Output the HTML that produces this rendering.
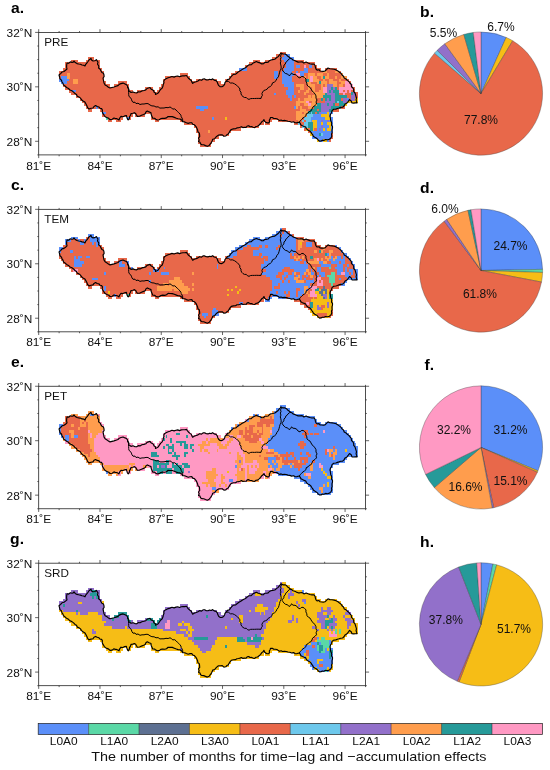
<!DOCTYPE html>
<html><head><meta charset="utf-8"><title>Time-lag and accumulation effects</title>
<style>
html,body{margin:0;padding:0;background:#fff;}
svg{display:block}
text{font-family:"Liberation Sans",Arial,Helvetica,sans-serif;fill:#111}
.ax{font-size:10.6px}
.pl{font-size:12px}
.hd{font-size:14px;font-weight:bold;fill:#000}
.vn{font-size:10.8px}
.lg{font-size:10.6px}
.tt{font-size:13.2px}
</style></head><body>
<svg width="550" height="770" viewBox="0 0 550 770">
<rect width="550" height="770" fill="#fff"/>
<g shape-rendering="crispEdges">
<path fill="#5B8FF9" d="M283.8 54.2h6.3v2.9h-6.3zM281.8 56.9h12.4v2.9h-12.4zM283.8 59.6h10.4v2.9h-10.4zM285.8 62.3h8.3v2.9h-8.3zM285.8 65.1h8.3v2.9h-8.3zM296.1 65.1h4.2v2.9h-4.2zM308.3 65.1h4.2v2.9h-4.2zM238.9 67.8h8.3v2.9h-8.3zM283.8 67.8h10.4v2.9h-10.4zM304.2 67.8h4.2v2.9h-4.2zM273.6 70.5h4.2v2.9h-4.2zM281.8 70.5h10.4v2.9h-10.4zM296.1 70.5h2.2v2.9h-2.2zM300.1 70.5h8.3v2.9h-8.3zM273.6 73.2h4.2v2.9h-4.2zM281.8 73.2h12.4v2.9h-12.4zM300.1 73.2h4.2v2.9h-4.2zM61.2 76.0h6.3v2.9h-6.3zM273.6 76.0h4.2v2.9h-4.2zM281.8 76.0h10.4v2.9h-10.4zM59.1 78.7h10.4v2.9h-10.4zM281.8 78.7h10.4v2.9h-10.4zM61.2 81.4h6.3v2.9h-6.3zM281.8 81.4h12.4v2.9h-12.4zM283.8 84.1h10.4v2.9h-10.4zM287.9 86.8h6.3v2.9h-6.3zM71.4 89.6h4.2v2.9h-4.2zM285.8 89.6h8.3v2.9h-8.3zM273.6 92.3h2.2v2.9h-2.2zM285.8 92.3h8.3v2.9h-8.3zM287.9 95.0h4.2v2.9h-4.2zM294.0 95.0h2.2v2.9h-2.2zM289.9 97.7h2.2v2.9h-2.2zM347.1 97.7h2.2v2.9h-2.2zM95.9 105.9h2.2v2.9h-2.2zM196.0 105.9h12.4v2.9h-12.4zM294.0 105.9h2.2v2.9h-2.2zM200.1 108.6h4.2v2.9h-4.2zM102.0 111.3h4.2v2.9h-4.2zM320.6 111.3h6.3v2.9h-6.3zM328.7 111.3h4.2v2.9h-4.2zM312.4 114.1h8.3v2.9h-8.3zM328.7 114.1h2.2v2.9h-2.2zM126.5 116.8h2.2v2.9h-2.2zM212.3 116.8h2.2v2.9h-2.2zM310.4 116.8h14.4v2.9h-14.4zM330.8 116.8h2.2v2.9h-2.2zM310.4 119.5h2.2v2.9h-2.2zM316.5 119.5h4.2v2.9h-4.2zM322.6 119.5h4.2v2.9h-4.2zM328.7 119.5h4.2v2.9h-4.2zM316.5 122.2h4.2v2.9h-4.2zM322.6 122.2h4.2v2.9h-4.2zM330.8 122.2h2.2v2.9h-2.2zM316.5 125.0h4.2v2.9h-4.2zM322.6 125.0h6.3v2.9h-6.3zM330.8 125.0h2.2v2.9h-2.2zM316.5 127.7h2.2v2.9h-2.2zM320.6 127.7h2.2v2.9h-2.2zM324.6 127.7h2.2v2.9h-2.2zM330.8 127.7h2.2v2.9h-2.2zM310.4 130.4h22.6v2.9h-22.6zM312.4 133.1h6.3v2.9h-6.3zM322.6 133.1h8.3v2.9h-8.3zM312.4 135.8h18.5v2.9h-18.5zM318.5 138.6h4.2v2.9h-4.2zM326.7 138.6h2.2v2.9h-2.2z"/>
<path fill="#5AD8A6" d="M106.1 116.8h2.2v2.9h-2.2z"/>
<path fill="#F6BD16" d="M355.3 97.7h2.2v2.9h-2.2zM347.1 100.5h10.4v2.9h-10.4zM345.1 103.2h2.2v2.9h-2.2zM326.7 111.3h2.2v2.9h-2.2zM320.6 114.1h8.3v2.9h-8.3zM224.6 116.8h2.2v2.9h-2.2zM324.6 116.8h6.3v2.9h-6.3zM312.4 119.5h4.2v2.9h-4.2zM312.4 122.2h4.2v2.9h-4.2zM320.6 122.2h2.2v2.9h-2.2zM326.7 122.2h4.2v2.9h-4.2zM312.4 125.0h4.2v2.9h-4.2zM328.7 125.0h2.2v2.9h-2.2zM306.3 127.7h2.2v2.9h-2.2zM312.4 127.7h2.2v2.9h-2.2zM322.6 127.7h2.2v2.9h-2.2zM326.7 127.7h4.2v2.9h-4.2zM310.4 133.1h2.2v2.9h-2.2zM316.5 138.6h2.2v2.9h-2.2zM322.6 138.6h4.2v2.9h-4.2z"/>
<path fill="#E8684A" d="M279.7 51.5h6.3v2.9h-6.3zM275.6 54.2h8.3v2.9h-8.3zM87.7 56.9h6.3v2.9h-6.3zM271.5 56.9h10.4v2.9h-10.4zM71.4 59.6h6.3v2.9h-6.3zM85.7 59.6h14.4v2.9h-14.4zM253.2 59.6h6.3v2.9h-6.3zM265.4 59.6h18.5v2.9h-18.5zM294.0 59.6h10.4v2.9h-10.4zM65.3 62.3h34.9v2.9h-34.9zM249.1 62.3h36.9v2.9h-36.9zM294.0 62.3h20.6v2.9h-20.6zM65.3 65.1h34.9v2.9h-34.9zM245.0 65.1h41.0v2.9h-41.0zM294.0 65.1h2.2v2.9h-2.2zM300.1 65.1h4.2v2.9h-4.2zM306.3 65.1h2.2v2.9h-2.2zM312.4 65.1h4.2v2.9h-4.2zM63.2 67.8h39.0v2.9h-39.0zM247.0 67.8h36.9v2.9h-36.9zM294.0 67.8h10.4v2.9h-10.4zM308.3 67.8h12.4v2.9h-12.4zM324.6 67.8h12.4v2.9h-12.4zM59.1 70.5h45.1v2.9h-45.1zM234.8 70.5h39.0v2.9h-39.0zM277.7 70.5h4.2v2.9h-4.2zM292.0 70.5h4.2v2.9h-4.2zM298.1 70.5h2.2v2.9h-2.2zM308.3 70.5h14.4v2.9h-14.4zM326.7 70.5h8.3v2.9h-8.3zM338.9 70.5h2.2v2.9h-2.2zM59.1 73.2h8.3v2.9h-8.3zM69.3 73.2h34.9v2.9h-34.9zM179.6 73.2h8.3v2.9h-8.3zM230.7 73.2h43.0v2.9h-43.0zM277.7 73.2h4.2v2.9h-4.2zM294.0 73.2h2.2v2.9h-2.2zM304.2 73.2h4.2v2.9h-4.2zM314.4 73.2h2.2v2.9h-2.2zM322.6 73.2h4.2v2.9h-4.2zM328.7 73.2h12.4v2.9h-12.4zM59.1 76.0h2.2v2.9h-2.2zM69.3 76.0h34.9v2.9h-34.9zM165.3 76.0h24.7v2.9h-24.7zM228.7 76.0h45.1v2.9h-45.1zM277.7 76.0h4.2v2.9h-4.2zM292.0 76.0h12.4v2.9h-12.4zM306.3 76.0h2.2v2.9h-2.2zM316.5 76.0h4.2v2.9h-4.2zM328.7 76.0h6.3v2.9h-6.3zM336.9 76.0h4.2v2.9h-4.2zM69.3 78.7h4.2v2.9h-4.2zM77.5 78.7h26.7v2.9h-26.7zM163.3 78.7h28.7v2.9h-28.7zM196.0 78.7h20.6v2.9h-20.6zM224.6 78.7h57.3v2.9h-57.3zM292.0 78.7h14.4v2.9h-14.4zM318.5 78.7h4.2v2.9h-4.2zM324.6 78.7h4.2v2.9h-4.2zM332.8 78.7h6.3v2.9h-6.3zM341.0 78.7h8.3v2.9h-8.3zM67.3 81.4h6.3v2.9h-6.3zM77.5 81.4h28.7v2.9h-28.7zM118.4 81.4h8.3v2.9h-8.3zM163.3 81.4h57.3v2.9h-57.3zM224.6 81.4h57.3v2.9h-57.3zM294.0 81.4h12.4v2.9h-12.4zM310.4 81.4h6.3v2.9h-6.3zM326.7 81.4h2.2v2.9h-2.2zM336.9 81.4h4.2v2.9h-4.2zM349.2 81.4h2.2v2.9h-2.2zM63.2 84.1h47.1v2.9h-47.1zM114.3 84.1h14.4v2.9h-14.4zM161.2 84.1h122.7v2.9h-122.7zM294.0 84.1h2.2v2.9h-2.2zM304.2 84.1h4.2v2.9h-4.2zM314.4 84.1h6.3v2.9h-6.3zM322.6 84.1h2.2v2.9h-2.2zM336.9 84.1h2.2v2.9h-2.2zM343.0 84.1h2.2v2.9h-2.2zM65.3 86.8h63.5v2.9h-63.5zM144.9 86.8h8.3v2.9h-8.3zM159.2 86.8h128.8v2.9h-128.8zM294.0 86.8h6.3v2.9h-6.3zM304.2 86.8h4.2v2.9h-4.2zM310.4 86.8h2.2v2.9h-2.2zM314.4 86.8h6.3v2.9h-6.3zM336.9 86.8h2.2v2.9h-2.2zM353.2 86.8h2.2v2.9h-2.2zM69.3 89.6h2.2v2.9h-2.2zM75.5 89.6h57.3v2.9h-57.3zM136.7 89.6h18.5v2.9h-18.5zM157.2 89.6h128.8v2.9h-128.8zM294.0 89.6h4.2v2.9h-4.2zM300.1 89.6h6.3v2.9h-6.3zM308.3 89.6h4.2v2.9h-4.2zM314.4 89.6h4.2v2.9h-4.2zM343.0 89.6h2.2v2.9h-2.2zM347.1 89.6h2.2v2.9h-2.2zM351.2 89.6h4.2v2.9h-4.2zM71.4 92.3h202.4v2.9h-202.4zM275.6 92.3h10.4v2.9h-10.4zM294.0 92.3h10.4v2.9h-10.4zM306.3 92.3h8.3v2.9h-8.3zM338.9 92.3h4.2v2.9h-4.2zM345.1 92.3h6.3v2.9h-6.3zM355.3 92.3h2.2v2.9h-2.2zM75.5 95.0h212.6v2.9h-212.6zM292.0 95.0h2.2v2.9h-2.2zM296.1 95.0h12.4v2.9h-12.4zM310.4 95.0h2.2v2.9h-2.2zM347.1 95.0h4.2v2.9h-4.2zM355.3 95.0h2.2v2.9h-2.2zM79.6 97.7h210.5v2.9h-210.5zM292.0 97.7h6.3v2.9h-6.3zM300.1 97.7h4.2v2.9h-4.2zM316.5 97.7h4.2v2.9h-4.2zM322.6 97.7h2.2v2.9h-2.2zM341.0 97.7h2.2v2.9h-2.2zM349.2 97.7h2.2v2.9h-2.2zM81.6 100.5h214.6v2.9h-214.6zM308.3 100.5h4.2v2.9h-4.2zM316.5 100.5h8.3v2.9h-8.3zM83.6 103.2h212.6v2.9h-212.6zM300.1 103.2h4.2v2.9h-4.2zM334.9 103.2h4.2v2.9h-4.2zM85.7 105.9h10.4v2.9h-10.4zM97.9 105.9h98.2v2.9h-98.2zM208.2 105.9h85.9v2.9h-85.9zM298.1 105.9h2.2v2.9h-2.2zM302.2 105.9h6.3v2.9h-6.3zM312.4 105.9h2.2v2.9h-2.2zM341.0 105.9h4.2v2.9h-4.2zM87.7 108.6h4.2v2.9h-4.2zM100.0 108.6h100.2v2.9h-100.2zM204.1 108.6h96.1v2.9h-96.1zM306.3 108.6h4.2v2.9h-4.2zM316.5 108.6h2.2v2.9h-2.2zM332.8 108.6h6.3v2.9h-6.3zM106.1 111.3h190.1v2.9h-190.1zM302.2 111.3h2.2v2.9h-2.2zM314.4 111.3h2.2v2.9h-2.2zM102.0 114.1h30.8v2.9h-30.8zM134.7 114.1h10.4v2.9h-10.4zM151.0 114.1h145.2v2.9h-145.2zM108.1 116.8h14.4v2.9h-14.4zM128.6 116.8h2.2v2.9h-2.2zM151.0 116.8h61.4v2.9h-61.4zM214.4 116.8h10.4v2.9h-10.4zM226.6 116.8h69.6v2.9h-69.6zM302.2 116.8h2.2v2.9h-2.2zM108.1 119.5h4.2v2.9h-4.2zM116.3 119.5h4.2v2.9h-4.2zM155.1 119.5h4.2v2.9h-4.2zM179.6 119.5h92.1v2.9h-92.1zM277.7 119.5h20.6v2.9h-20.6zM300.1 119.5h2.2v2.9h-2.2zM304.2 119.5h2.2v2.9h-2.2zM183.7 122.2h79.8v2.9h-79.8zM265.4 122.2h4.2v2.9h-4.2zM294.0 122.2h4.2v2.9h-4.2zM300.1 122.2h4.2v2.9h-4.2zM193.9 125.0h65.5v2.9h-65.5zM300.1 125.0h2.2v2.9h-2.2zM196.0 127.7h45.1v2.9h-45.1zM304.2 127.7h2.2v2.9h-2.2zM308.3 127.7h2.2v2.9h-2.2zM314.4 127.7h2.2v2.9h-2.2zM196.0 130.4h12.4v2.9h-12.4zM210.3 130.4h20.6v2.9h-20.6zM308.3 130.4h2.2v2.9h-2.2zM198.0 133.1h30.8v2.9h-30.8zM330.8 133.1h2.2v2.9h-2.2zM198.0 135.8h20.6v2.9h-20.6zM330.8 135.8h2.2v2.9h-2.2zM198.0 138.6h16.5v2.9h-16.5zM328.7 138.6h2.2v2.9h-2.2zM198.0 141.3h14.4v2.9h-14.4zM200.1 144.0h10.4v2.9h-10.4z"/>
<path fill="#6DC8EC" d="M336.9 100.5h2.2v2.9h-2.2zM310.4 111.3h2.2v2.9h-2.2zM306.3 114.1h6.3v2.9h-6.3zM304.2 116.8h6.3v2.9h-6.3zM302.2 119.5h2.2v2.9h-2.2zM306.3 119.5h4.2v2.9h-4.2zM298.1 122.2h2.2v2.9h-2.2zM304.2 122.2h4.2v2.9h-4.2zM302.2 125.0h6.3v2.9h-6.3zM320.6 133.1h2.2v2.9h-2.2z"/>
<path fill="#9270CA" d="M326.7 84.1h6.3v2.9h-6.3zM326.7 86.8h4.2v2.9h-4.2zM332.8 86.8h2.2v2.9h-2.2zM326.7 89.6h2.2v2.9h-2.2zM330.8 89.6h2.2v2.9h-2.2zM326.7 92.3h8.3v2.9h-8.3zM353.2 92.3h2.2v2.9h-2.2zM330.8 95.0h4.2v2.9h-4.2zM351.2 95.0h4.2v2.9h-4.2zM326.7 97.7h2.2v2.9h-2.2zM330.8 97.7h4.2v2.9h-4.2zM343.0 97.7h4.2v2.9h-4.2zM351.2 97.7h4.2v2.9h-4.2zM324.6 100.5h10.4v2.9h-10.4zM343.0 100.5h4.2v2.9h-4.2zM320.6 103.2h6.3v2.9h-6.3zM328.7 103.2h4.2v2.9h-4.2zM320.6 105.9h10.4v2.9h-10.4zM320.6 108.6h8.3v2.9h-8.3zM318.5 111.3h2.2v2.9h-2.2zM320.6 119.5h2.2v2.9h-2.2zM326.7 119.5h2.2v2.9h-2.2zM320.6 125.0h2.2v2.9h-2.2zM318.5 127.7h2.2v2.9h-2.2z"/>
<path fill="#FF9D4D" d="M322.6 70.5h4.2v2.9h-4.2zM334.9 70.5h4.2v2.9h-4.2zM67.3 73.2h2.2v2.9h-2.2zM308.3 73.2h6.3v2.9h-6.3zM316.5 73.2h6.3v2.9h-6.3zM326.7 73.2h2.2v2.9h-2.2zM341.0 73.2h2.2v2.9h-2.2zM67.3 76.0h2.2v2.9h-2.2zM304.2 76.0h2.2v2.9h-2.2zM308.3 76.0h2.2v2.9h-2.2zM312.4 76.0h4.2v2.9h-4.2zM320.6 76.0h2.2v2.9h-2.2zM324.6 76.0h4.2v2.9h-4.2zM334.9 76.0h2.2v2.9h-2.2zM341.0 76.0h6.3v2.9h-6.3zM73.4 78.7h4.2v2.9h-4.2zM308.3 78.7h2.2v2.9h-2.2zM312.4 78.7h6.3v2.9h-6.3zM322.6 78.7h2.2v2.9h-2.2zM328.7 78.7h4.2v2.9h-4.2zM338.9 78.7h2.2v2.9h-2.2zM73.4 81.4h4.2v2.9h-4.2zM306.3 81.4h4.2v2.9h-4.2zM316.5 81.4h2.2v2.9h-2.2zM320.6 81.4h6.3v2.9h-6.3zM328.7 81.4h8.3v2.9h-8.3zM341.0 81.4h4.2v2.9h-4.2zM296.1 84.1h8.3v2.9h-8.3zM308.3 84.1h6.3v2.9h-6.3zM320.6 84.1h2.2v2.9h-2.2zM324.6 84.1h2.2v2.9h-2.2zM332.8 84.1h4.2v2.9h-4.2zM338.9 84.1h4.2v2.9h-4.2zM300.1 86.8h4.2v2.9h-4.2zM308.3 86.8h2.2v2.9h-2.2zM312.4 86.8h2.2v2.9h-2.2zM320.6 86.8h2.2v2.9h-2.2zM298.1 89.6h2.2v2.9h-2.2zM306.3 89.6h2.2v2.9h-2.2zM312.4 89.6h2.2v2.9h-2.2zM318.5 89.6h4.2v2.9h-4.2zM304.2 92.3h2.2v2.9h-2.2zM314.4 92.3h10.4v2.9h-10.4zM308.3 95.0h2.2v2.9h-2.2zM312.4 95.0h10.4v2.9h-10.4zM298.1 97.7h2.2v2.9h-2.2zM304.2 97.7h12.4v2.9h-12.4zM296.1 100.5h10.4v2.9h-10.4zM312.4 100.5h4.2v2.9h-4.2zM296.1 103.2h4.2v2.9h-4.2zM304.2 103.2h4.2v2.9h-4.2zM310.4 103.2h6.3v2.9h-6.3zM296.1 105.9h2.2v2.9h-2.2zM300.1 105.9h2.2v2.9h-2.2zM308.3 105.9h4.2v2.9h-4.2zM300.1 108.6h6.3v2.9h-6.3zM296.1 111.3h6.3v2.9h-6.3zM304.2 111.3h4.2v2.9h-4.2zM296.1 114.1h10.4v2.9h-10.4zM296.1 116.8h6.3v2.9h-6.3zM298.1 119.5h2.2v2.9h-2.2zM208.2 130.4h2.2v2.9h-2.2z"/>
<path fill="#269A99" d="M322.6 76.0h2.2v2.9h-2.2zM306.3 78.7h2.2v2.9h-2.2zM318.5 81.4h2.2v2.9h-2.2zM330.8 86.8h2.2v2.9h-2.2zM334.9 86.8h2.2v2.9h-2.2zM328.7 89.6h2.2v2.9h-2.2zM332.8 89.6h6.3v2.9h-6.3zM324.6 92.3h2.2v2.9h-2.2zM334.9 92.3h4.2v2.9h-4.2zM351.2 92.3h2.2v2.9h-2.2zM322.6 95.0h8.3v2.9h-8.3zM334.9 95.0h12.4v2.9h-12.4zM320.6 97.7h2.2v2.9h-2.2zM324.6 97.7h2.2v2.9h-2.2zM328.7 97.7h2.2v2.9h-2.2zM334.9 97.7h6.3v2.9h-6.3zM334.9 100.5h2.2v2.9h-2.2zM338.9 100.5h4.2v2.9h-4.2zM316.5 103.2h4.2v2.9h-4.2zM326.7 103.2h2.2v2.9h-2.2zM332.8 103.2h2.2v2.9h-2.2zM338.9 103.2h6.3v2.9h-6.3zM314.4 105.9h6.3v2.9h-6.3zM330.8 105.9h10.4v2.9h-10.4zM310.4 108.6h6.3v2.9h-6.3zM318.5 108.6h2.2v2.9h-2.2zM328.7 108.6h4.2v2.9h-4.2zM308.3 111.3h2.2v2.9h-2.2zM312.4 111.3h2.2v2.9h-2.2zM316.5 111.3h2.2v2.9h-2.2zM308.3 122.2h4.2v2.9h-4.2zM308.3 125.0h4.2v2.9h-4.2zM310.4 127.7h2.2v2.9h-2.2zM318.5 133.1h2.2v2.9h-2.2z"/>
<path fill="#FF99C3" d="M304.2 65.1h2.2v2.9h-2.2zM296.1 73.2h4.2v2.9h-4.2zM310.4 76.0h2.2v2.9h-2.2zM310.4 78.7h2.2v2.9h-2.2zM345.1 81.4h4.2v2.9h-4.2zM345.1 84.1h8.3v2.9h-8.3zM322.6 86.8h4.2v2.9h-4.2zM338.9 86.8h14.4v2.9h-14.4zM322.6 89.6h4.2v2.9h-4.2zM338.9 89.6h4.2v2.9h-4.2zM345.1 89.6h2.2v2.9h-2.2zM349.2 89.6h2.2v2.9h-2.2zM343.0 92.3h2.2v2.9h-2.2zM306.3 100.5h2.2v2.9h-2.2zM308.3 103.2h2.2v2.9h-2.2z"/>
</g>
<path d="M59.0 75.0 L60.6 73.6 L62.0 72.0 L64.0 71.5 L65.5 70.3 L67.0 69.0 L66.6 67.0 L66.7 65.0 L67.0 63.0 L68.7 63.3 L70.3 61.9 L72.0 62.4 L73.3 62.1 L74.0 61.0 L75.2 62.6 L77.0 63.6 L78.7 64.0 L80.4 64.3 L82.0 65.0 L83.6 65.2 L85.0 66.0 L85.7 64.3 L86.9 63.0 L88.0 61.5 L89.0 60.0 L90.0 59.3 L91.0 58.4 L91.5 60.1 L93.0 61.0 L94.9 60.7 L96.4 59.6 L97.1 60.9 L98.0 62.0 L97.5 64.1 L98.8 66.0 L98.6 68.0 L100.2 69.2 L101.0 71.0 L101.9 72.4 L103.5 73.3 L104.0 75.0 L104.1 76.7 L103.0 78.0 L103.3 79.7 L103.7 81.3 L104.0 83.0 L105.1 84.9 L107.0 86.0 L108.4 87.2 L110.0 88.0 L112.0 87.5 L114.0 87.0 L116.0 86.3 L118.0 85.6 L119.3 84.3 L121.0 83.6 L123.1 83.1 L125.0 84.0 L126.5 84.7 L127.5 86.0 L127.7 87.7 L128.8 89.2 L128.8 91.0 L130.0 91.6 L131.0 92.5 L133.1 92.0 L135.0 92.8 L136.7 93.0 L138.3 91.8 L140.0 92.0 L141.9 90.9 L144.0 90.5 L145.8 89.9 L147.0 88.5 L148.5 88.0 L150.0 87.5 L150.9 88.9 L152.3 89.7 L153.6 90.5 L153.9 92.0 L155.4 92.9 L155.5 94.5 L156.9 93.8 L158.2 93.0 L159.4 91.3 L160.5 89.5 L162.2 88.1 L163.0 86.0 L163.3 84.3 L164.0 82.8 L163.8 81.0 L164.8 79.5 L166.5 78.6 L168.2 77.8 L170.0 77.3 L171.9 76.5 L174.1 77.1 L176.0 76.3 L177.7 76.0 L179.5 76.7 L181.3 76.1 L183.0 75.8 L184.8 75.8 L186.5 75.5 L187.5 77.0 L188.6 78.3 L190.0 79.5 L191.3 80.5 L191.9 82.1 L192.7 83.4 L194.3 82.3 L196.2 81.7 L198.0 81.0 L199.5 79.8 L201.6 80.3 L203.0 79.0 L204.7 78.9 L206.3 79.9 L208.0 80.0 L209.5 79.3 L211.3 79.7 L212.7 78.8 L214.1 80.1 L216.1 80.6 L217.3 82.1 L217.8 83.8 L218.6 85.4 L220.0 86.6 L221.9 86.7 L223.6 85.7 L224.6 84.3 L225.0 82.4 L226.4 81.2 L227.4 79.6 L229.5 79.0 L230.5 77.3 L231.8 75.9 L233.4 74.4 L235.7 74.1 L237.3 72.7 L239.0 71.4 L240.7 70.6 L242.2 69.4 L243.8 68.5 L245.5 67.7 L247.1 66.3 L248.8 64.9 L251.2 64.8 L252.7 63.3 L254.5 62.4 L256.4 61.5 L258.2 62.4 L260.1 62.9 L261.8 63.9 L263.5 63.8 L264.8 62.4 L266.6 62.4 L268.2 62.1 L269.4 60.7 L270.9 60.0 L272.7 59.6 L274.8 59.2 L276.5 57.8 L278.2 56.6 L279.1 55.3 L280.1 54.2 L281.0 53.0 L282.9 54.0 L285.0 54.0 L286.5 54.8 L287.6 56.1 L289.0 57.0 L290.2 58.2 L291.8 58.8 L293.0 60.0 L294.7 60.5 L296.4 61.4 L298.1 62.1 L300.0 62.0 L302.1 61.8 L303.9 63.1 L306.1 62.1 L308.0 63.0 L309.9 63.7 L311.9 64.1 L314.0 64.0 L315.1 65.5 L315.4 67.3 L316.0 69.0 L317.1 70.1 L319.0 69.7 L320.0 71.0 L321.7 71.2 L323.3 71.4 L325.0 71.0 L326.5 69.5 L328.0 68.0 L329.9 68.8 L332.0 69.0 L334.1 69.3 L336.1 69.9 L338.0 71.0 L339.5 72.2 L341.0 73.3 L342.0 75.0 L343.5 76.2 L344.2 78.1 L346.0 79.0 L347.3 80.4 L348.8 81.5 L350.0 83.0 L351.3 84.5 L351.5 86.7 L353.0 88.0 L353.7 89.6 L353.7 91.6 L355.0 93.0 L355.5 94.7 L356.0 96.3 L356.5 98.0 L356.1 99.7 L356.5 101.4 L357.0 103.0 L355.3 102.9 L353.7 103.1 L352.0 103.0 L351.2 101.0 L349.5 99.6 L348.3 101.4 L347.0 103.0 L345.1 104.1 L344.0 106.0 L342.6 107.2 L340.7 107.4 L339.0 108.0 L337.4 108.5 L335.8 109.1 L333.7 109.3 L332.0 110.7 L331.5 112.7 L330.4 114.5 L330.0 116.2 L330.4 117.8 L330.5 119.3 L330.8 120.8 L331.5 122.2 L331.7 123.7 L331.5 125.2 L332.5 126.5 L332.5 128.2 L332.0 129.8 L332.0 131.3 L332.1 132.8 L331.5 134.2 L331.8 136.2 L330.9 138.0 L329.4 139.3 L327.6 139.8 L325.6 139.5 L323.8 140.4 L322.3 140.2 L321.1 141.0 L319.6 141.1 L318.4 140.2 L317.4 139.0 L316.2 138.0 L314.8 137.2 L313.5 136.4 L312.8 134.9 L311.8 133.6 L310.9 132.1 L309.6 130.9 L307.8 130.0 L306.4 128.7 L305.8 127.1 L304.2 126.5 L302.5 125.7 L300.9 124.9 L300.3 123.5 L299.3 122.2 L298.0 122.4 L296.7 122.9 L295.0 122.8 L293.5 121.8 L291.6 122.2 L289.8 121.5 L288.0 121.2 L286.2 120.7 L284.4 120.4 L282.5 120.7 L281.1 120.0 L279.5 120.5 L278.2 119.6 L276.9 118.7 L275.4 118.5 L273.8 118.5 L272.3 117.5 L270.5 117.5 L270.1 118.9 L269.3 120.2 L269.5 121.8 L268.7 122.9 L267.3 122.9 L265.7 122.3 L264.6 121.2 L264.0 119.6 L263.1 120.9 L261.8 121.8 L260.6 123.5 L259.2 125.0 L257.5 126.2 L256.0 126.5 L254.7 127.6 L253.0 127.3 L251.6 126.6 L250.0 126.7 L248.7 125.7 L247.2 126.0 L246.1 127.4 L244.4 127.3 L242.9 127.6 L241.5 126.7 L240.0 127.3 L238.5 127.7 L236.9 127.9 L235.6 128.8 L233.4 128.9 L231.3 129.5 L230.0 131.0 L229.0 132.7 L228.2 134.1 L226.8 134.8 L225.8 136.0 L223.9 136.3 L222.3 134.9 L220.4 134.9 L218.7 135.0 L217.3 135.9 L216.0 137.0 L214.7 138.7 L212.7 139.3 L212.2 140.8 L211.5 142.3 L210.5 143.6 L209.2 145.4 L207.3 146.3 L205.5 145.6 L203.7 144.8 L201.8 144.7 L200.5 143.8 L200.0 142.2 L198.5 141.5 L199.2 139.9 L198.5 138.1 L199.7 136.6 L199.6 134.9 L199.4 133.1 L197.9 131.8 L197.6 130.0 L197.0 128.6 L196.4 127.2 L195.5 126.0 L194.4 124.8 L192.7 124.2 L191.8 122.7 L190.0 122.8 L188.2 123.4 L186.4 122.7 L184.7 121.9 L182.7 121.8 L181.7 120.1 L180.0 119.0 L178.1 118.8 L176.4 118.2 L174.3 117.4 L172.3 116.6 L170.0 116.6 L168.1 116.5 L166.5 117.9 L164.7 118.4 L162.7 118.2 L160.8 118.6 L159.2 119.8 L157.3 120.0 L155.8 119.3 L154.5 118.2 L152.7 118.2 L152.0 116.4 L151.2 114.6 L151.0 112.7 L149.1 111.9 L147.3 111.0 L145.9 112.0 L145.2 113.7 L143.6 114.5 L141.5 115.3 L139.5 116.3 L137.3 116.4 L136.5 115.0 L135.8 113.7 L134.5 112.7 L132.8 113.3 L131.0 113.6 L130.5 115.3 L129.5 116.8 L129.3 118.6 L128.2 120.0 L127.3 118.6 L126.8 117.1 L126.4 115.5 L124.6 115.9 L122.9 116.7 L121.0 116.4 L119.7 118.0 L119.0 120.0 L117.8 119.2 L116.5 118.6 L115.2 118.6 L114.0 118.0 L112.2 119.3 L110.0 119.6 L108.7 118.3 L107.0 117.6 L105.5 116.9 L104.4 115.8 L103.6 114.4 L102.7 113.1 L102.2 111.6 L102.4 110.0 L101.6 108.6 L99.9 108.2 L99.0 107.0 L97.2 106.6 L95.6 105.6 L94.0 106.5 L93.0 108.0 L91.0 108.3 L89.0 109.0 L87.6 107.6 L86.9 105.7 L86.0 104.0 L84.9 102.1 L83.0 101.0 L81.5 99.8 L80.5 98.1 L79.0 97.0 L77.3 96.3 L76.5 94.5 L75.0 93.6 L73.6 92.1 L71.9 90.8 L70.0 90.0 L68.5 88.5 L66.6 87.5 L65.0 86.0 L63.5 85.0 L63.0 83.3 L62.0 82.0 L61.5 80.2 L60.0 78.9 L59.6 77.0Z" fill="none" stroke="#000" stroke-width="1.15" stroke-linejoin="round"/>
<path d="M127.8 87.0 L128.7 88.9 L128.5 91.0 L128.7 92.8 L128.7 94.7 L129.0 96.5 L130.5 97.6 L131.4 99.2 L132.0 101.0 L133.0 102.4 L135.0 102.2 L136.0 103.6 L138.0 103.2 L140.0 104.5 L142.0 104.0 L144.0 104.0 L146.0 103.6 L148.0 103.6 L149.0 104.3 L150.0 105.0 L151.9 105.9 L154.1 106.0 L156.0 107.0 L158.1 106.8 L159.9 108.1 L162.0 108.0 L164.0 108.0 L166.0 107.5 L168.1 107.7 L170.0 107.0 L171.5 107.8 L172.7 109.1 L174.7 108.9 L176.0 110.0 L177.3 111.4 L178.7 112.7 L180.0 114.0 L180.9 115.2 L181.2 116.7 L182.0 118.0 L182.7 119.8 L182.7 121.8" fill="none" stroke="#000" stroke-width="1.0" stroke-linejoin="round"/>
<path d="M226.4 81.2 L228.6 81.5 L230.4 83.0 L232.7 83.0 L234.5 83.8 L236.1 84.9 L237.5 86.2 L239.0 87.5 L239.9 89.0 L239.8 90.8 L241.0 92.1 L241.0 93.9 L241.8 95.5 L243.0 96.6 L244.5 97.5 L246.3 97.5 L247.5 98.8 L249.0 99.4 L250.7 98.6 L252.6 98.5 L254.5 98.5 L256.7 98.4 L258.8 98.4 L261.0 98.5 L261.4 96.9 L262.4 95.4 L261.9 93.5 L262.7 92.0 L263.8 90.5 L265.6 89.9 L267.2 89.1 L268.2 87.5 L270.2 86.6 L271.7 85.2 L272.5 82.9 L274.5 82.0 L276.1 80.5 L276.9 78.5 L278.3 76.9 L279.0 74.8 L279.5 72.8 L280.0 70.8 L281.0 69.0 L281.2 67.0 L280.8 65.0 L280.3 63.0 L280.9 61.2 L280.4 59.3 L281.0 57.5 L280.5 56.0 L281.4 54.5 L281.0 53.0" fill="none" stroke="#000" stroke-width="1.0" stroke-linejoin="round"/>
<path d="M291.0 58.2 L289.3 58.9 L288.0 60.0 L287.0 61.5 L285.7 62.4 L285.3 64.1 L284.0 65.0 L283.8 67.0 L282.6 68.5 L282.2 69.8 L283.0 71.0 L284.1 72.4 L285.5 73.5 L287.6 74.0 L289.0 75.7 L290.7 74.7 L291.5 73.0 L293.0 74.4 L295.0 74.5 L296.8 75.4 L298.1 77.2 L300.0 78.0 L301.2 76.7 L303.0 76.5 L304.6 77.7 L306.0 79.0 L305.9 81.1 L306.8 83.0 L307.0 85.0 L308.3 86.4 L310.0 87.3 L311.0 89.0 L312.0 90.9 L313.7 92.3 L315.0 94.0 L316.0 95.9 L316.0 98.1 L317.0 100.0 L316.1 101.9 L316.5 104.0 L315.3 105.2 L314.0 106.3 L312.6 107.3 L312.0 109.0 L311.1 110.8 L309.2 111.6 L308.0 113.0 L306.3 113.8 L305.9 115.9 L304.5 117.0 L303.0 118.0 L301.7 119.4 L300.3 120.6 L299.3 122.2" fill="none" stroke="#000" stroke-width="1.0" stroke-linejoin="round"/>
<rect x="38.70" y="32.40" width="326.80" height="122.50" fill="none" stroke="#222" stroke-width="0.8"/>
<path d="M38.70 154.90v3.20M38.70 32.40v-3.20M59.12 154.90v1.40M59.12 32.40v-1.40M79.55 154.90v1.40M79.55 32.40v-1.40M99.98 154.90v3.20M99.98 32.40v-3.20M120.40 154.90v1.40M120.40 32.40v-1.40M140.82 154.90v1.40M140.82 32.40v-1.40M161.25 154.90v3.20M161.25 32.40v-3.20M181.68 154.90v1.40M181.68 32.40v-1.40M202.10 154.90v1.40M202.10 32.40v-1.40M222.53 154.90v3.20M222.53 32.40v-3.20M242.95 154.90v1.40M242.95 32.40v-1.40M263.38 154.90v1.40M263.38 32.40v-1.40M283.80 154.90v3.20M283.80 32.40v-3.20M304.23 154.90v1.40M304.23 32.40v-1.40M324.65 154.90v1.40M324.65 32.40v-1.40M345.07 154.90v3.20M345.07 32.40v-3.20M365.50 154.90v1.40M365.50 32.40v-1.40M38.70 32.40h-3.60M365.50 32.40h3.60M38.70 46.01h-1.40M365.50 46.01h1.40M38.70 59.62h-1.40M365.50 59.62h1.40M38.70 73.23h-1.40M365.50 73.23h1.40M38.70 86.84h-3.60M365.50 86.84h3.60M38.70 100.46h-1.40M365.50 100.46h1.40M38.70 114.07h-1.40M365.50 114.07h1.40M38.70 127.68h-1.40M365.50 127.68h1.40M38.70 141.29h-3.60M365.50 141.29h3.60M38.70 154.90h-1.40M365.50 154.90h1.40" stroke="#222" stroke-width="0.7" fill="none"/>
<text transform="translate(38.7 169.5) scale(1.12 1)" text-anchor="middle" class="ax">81˚E</text>
<text transform="translate(100.0 169.5) scale(1.12 1)" text-anchor="middle" class="ax">84˚E</text>
<text transform="translate(161.2 169.5) scale(1.12 1)" text-anchor="middle" class="ax">87˚E</text>
<text transform="translate(222.5 169.5) scale(1.12 1)" text-anchor="middle" class="ax">90˚E</text>
<text transform="translate(283.8 169.5) scale(1.12 1)" text-anchor="middle" class="ax">93˚E</text>
<text transform="translate(345.1 169.5) scale(1.12 1)" text-anchor="middle" class="ax">96˚E</text>
<text transform="translate(32.3 36.8) scale(1.12 1)" text-anchor="end" class="ax">32˚N</text>
<text transform="translate(32.3 91.2) scale(1.12 1)" text-anchor="end" class="ax">30˚N</text>
<text transform="translate(32.3 145.7) scale(1.12 1)" text-anchor="end" class="ax">28˚N</text>
<text transform="translate(44.3 46.1) scale(1.085 1)" class="vn">PRE</text>
<text transform="translate(24 13.4) scale(1.12 1)" text-anchor="end" class="hd">a.</text>
<text transform="translate(434 16.5) scale(1.12 1)" text-anchor="end" class="hd">b.</text>
<path d="M481.00 93.60L481.00 32.00A61.60 61.60 0 0 1 506.17 37.38Z" fill="#5B8FF9" stroke="#3a3a3a" stroke-width="0.35" stroke-linejoin="round"/>
<path d="M481.00 93.60L506.17 37.38A61.60 61.60 0 0 1 512.69 40.78Z" fill="#F6BD16" stroke="#3a3a3a" stroke-width="0.35" stroke-linejoin="round"/>
<path d="M481.00 93.60L512.69 40.78A61.60 61.60 0 1 1 434.54 53.15Z" fill="#E8684A" stroke="#3a3a3a" stroke-width="0.35" stroke-linejoin="round"/>
<path d="M481.00 93.60L434.54 53.15A61.60 61.60 0 0 1 437.17 50.32Z" fill="#6DC8EC" stroke="#3a3a3a" stroke-width="0.35" stroke-linejoin="round"/>
<path d="M481.00 93.60L437.17 50.32A61.60 61.60 0 0 1 444.79 43.76Z" fill="#9270CA" stroke="#3a3a3a" stroke-width="0.35" stroke-linejoin="round"/>
<path d="M481.00 93.60L444.79 43.76A61.60 61.60 0 0 1 463.81 34.45Z" fill="#FF9D4D" stroke="#3a3a3a" stroke-width="0.35" stroke-linejoin="round"/>
<path d="M481.00 93.60L463.81 34.45A61.60 61.60 0 0 1 473.28 32.49Z" fill="#269A99" stroke="#3a3a3a" stroke-width="0.35" stroke-linejoin="round"/>
<path d="M481.00 93.60L473.28 32.49A61.60 61.60 0 0 1 481.00 32.00Z" fill="#FF99C3" stroke="#3a3a3a" stroke-width="0.35" stroke-linejoin="round"/>
<text x="481.0" y="123.9" text-anchor="middle" class="pl">77.8%</text>
<text x="500.9" y="31.4" text-anchor="middle" class="pl">6.7%</text>
<text x="443.4" y="36.6" text-anchor="middle" class="pl">5.5%</text>
<g shape-rendering="crispEdges">
<path fill="#5B8FF9" d="M279.7 228.4h2.2v2.9h-2.2zM275.6 231.1h6.3v2.9h-6.3zM283.8 231.1h4.2v2.9h-4.2zM87.7 233.8h6.3v2.9h-6.3zM271.5 233.8h8.3v2.9h-8.3zM281.8 233.8h10.4v2.9h-10.4zM71.4 236.6h6.3v2.9h-6.3zM89.8 236.6h10.4v2.9h-10.4zM253.2 236.6h6.3v2.9h-6.3zM265.4 236.6h30.8v2.9h-30.8zM65.3 239.3h6.3v2.9h-6.3zM77.5 239.3h2.2v2.9h-2.2zM83.6 239.3h2.2v2.9h-2.2zM89.8 239.3h10.4v2.9h-10.4zM249.1 239.3h47.1v2.9h-47.1zM65.3 242.0h2.2v2.9h-2.2zM79.6 242.0h4.2v2.9h-4.2zM91.8 242.0h2.2v2.9h-2.2zM95.9 242.0h4.2v2.9h-4.2zM245.0 242.0h51.2v2.9h-51.2zM306.3 242.0h6.3v2.9h-6.3zM95.9 244.7h2.2v2.9h-2.2zM238.9 244.7h8.3v2.9h-8.3zM251.1 244.7h8.3v2.9h-8.3zM261.3 244.7h4.2v2.9h-4.2zM267.5 244.7h10.4v2.9h-10.4zM279.7 244.7h16.5v2.9h-16.5zM306.3 244.7h6.3v2.9h-6.3zM334.9 244.7h2.2v2.9h-2.2zM59.1 247.4h4.2v2.9h-4.2zM234.8 247.4h8.3v2.9h-8.3zM259.3 247.4h16.5v2.9h-16.5zM277.7 247.4h18.5v2.9h-18.5zM338.9 247.4h2.2v2.9h-2.2zM59.1 250.2h2.2v2.9h-2.2zM69.3 250.2h4.2v2.9h-4.2zM230.7 250.2h6.3v2.9h-6.3zM253.2 250.2h43.0v2.9h-43.0zM341.0 250.2h2.2v2.9h-2.2zM228.7 252.9h8.3v2.9h-8.3zM253.2 252.9h6.3v2.9h-6.3zM261.3 252.9h28.7v2.9h-28.7zM292.0 252.9h2.2v2.9h-2.2zM326.7 252.9h2.2v2.9h-2.2zM343.0 252.9h4.2v2.9h-4.2zM73.4 255.6h2.2v2.9h-2.2zM77.5 255.6h4.2v2.9h-4.2zM85.7 255.6h4.2v2.9h-4.2zM226.6 255.6h6.3v2.9h-6.3zM261.3 255.6h2.2v2.9h-2.2zM267.5 255.6h22.6v2.9h-22.6zM330.8 255.6h2.2v2.9h-2.2zM336.9 255.6h4.2v2.9h-4.2zM343.0 255.6h2.2v2.9h-2.2zM347.1 255.6h2.2v2.9h-2.2zM73.4 258.3h6.3v2.9h-6.3zM263.4 258.3h2.2v2.9h-2.2zM267.5 258.3h26.7v2.9h-26.7zM300.1 258.3h2.2v2.9h-2.2zM328.7 258.3h4.2v2.9h-4.2zM334.9 258.3h10.4v2.9h-10.4zM349.2 258.3h2.2v2.9h-2.2zM73.4 261.1h10.4v2.9h-10.4zM118.4 261.1h4.2v2.9h-4.2zM126.5 261.1h2.2v2.9h-2.2zM263.4 261.1h36.9v2.9h-36.9zM304.2 261.1h2.2v2.9h-2.2zM318.5 261.1h4.2v2.9h-4.2zM330.8 261.1h8.3v2.9h-8.3zM341.0 261.1h4.2v2.9h-4.2zM351.2 261.1h2.2v2.9h-2.2zM73.4 263.8h8.3v2.9h-8.3zM118.4 263.8h6.3v2.9h-6.3zM216.4 263.8h2.2v2.9h-2.2zM261.3 263.8h47.1v2.9h-47.1zM320.6 263.8h10.4v2.9h-10.4zM336.9 263.8h6.3v2.9h-6.3zM347.1 263.8h2.2v2.9h-2.2zM353.2 263.8h2.2v2.9h-2.2zM130.6 266.5h2.2v2.9h-2.2zM163.3 266.5h2.2v2.9h-2.2zM216.4 266.5h2.2v2.9h-2.2zM261.3 266.5h22.6v2.9h-22.6zM289.9 266.5h18.5v2.9h-18.5zM316.5 266.5h4.2v2.9h-4.2zM334.9 266.5h8.3v2.9h-8.3zM345.1 266.5h2.2v2.9h-2.2zM353.2 266.5h2.2v2.9h-2.2zM153.1 269.2h6.3v2.9h-6.3zM265.4 269.2h16.5v2.9h-16.5zM294.0 269.2h12.4v2.9h-12.4zM310.4 269.2h2.2v2.9h-2.2zM316.5 269.2h4.2v2.9h-4.2zM336.9 269.2h6.3v2.9h-6.3zM345.1 269.2h2.2v2.9h-2.2zM349.2 269.2h4.2v2.9h-4.2zM355.3 269.2h2.2v2.9h-2.2zM104.1 271.9h2.2v2.9h-2.2zM149.0 271.9h2.2v2.9h-2.2zM161.2 271.9h8.3v2.9h-8.3zM261.3 271.9h16.5v2.9h-16.5zM283.8 271.9h4.2v2.9h-4.2zM292.0 271.9h2.2v2.9h-2.2zM300.1 271.9h4.2v2.9h-4.2zM310.4 271.9h4.2v2.9h-4.2zM318.5 271.9h6.3v2.9h-6.3zM336.9 271.9h4.2v2.9h-4.2zM345.1 271.9h4.2v2.9h-4.2zM351.2 271.9h2.2v2.9h-2.2zM355.3 271.9h2.2v2.9h-2.2zM265.4 274.7h10.4v2.9h-10.4zM281.8 274.7h4.2v2.9h-4.2zM287.9 274.7h6.3v2.9h-6.3zM296.1 274.7h2.2v2.9h-2.2zM300.1 274.7h2.2v2.9h-2.2zM306.3 274.7h2.2v2.9h-2.2zM316.5 274.7h2.2v2.9h-2.2zM320.6 274.7h4.2v2.9h-4.2zM345.1 274.7h6.3v2.9h-6.3zM355.3 274.7h2.2v2.9h-2.2zM91.8 277.4h6.3v2.9h-6.3zM269.5 277.4h10.4v2.9h-10.4zM281.8 277.4h2.2v2.9h-2.2zM285.8 277.4h8.3v2.9h-8.3zM300.1 277.4h2.2v2.9h-2.2zM304.2 277.4h2.2v2.9h-2.2zM312.4 277.4h2.2v2.9h-2.2zM338.9 277.4h2.2v2.9h-2.2zM347.1 277.4h10.4v2.9h-10.4zM149.0 280.1h2.2v2.9h-2.2zM271.5 280.1h10.4v2.9h-10.4zM283.8 280.1h4.2v2.9h-4.2zM289.9 280.1h6.3v2.9h-6.3zM306.3 280.1h8.3v2.9h-8.3zM345.1 280.1h2.2v2.9h-2.2zM271.5 282.8h6.3v2.9h-6.3zM279.7 282.8h30.8v2.9h-30.8zM341.0 282.8h4.2v2.9h-4.2zM104.1 285.6h2.2v2.9h-2.2zM271.5 285.6h2.2v2.9h-2.2zM279.7 285.6h24.7v2.9h-24.7zM308.3 285.6h2.2v2.9h-2.2zM104.1 288.3h2.2v2.9h-2.2zM271.5 288.3h24.7v2.9h-24.7zM300.1 288.3h4.2v2.9h-4.2zM306.3 288.3h2.2v2.9h-2.2zM269.5 291.0h6.3v2.9h-6.3zM277.7 291.0h6.3v2.9h-6.3zM285.8 291.0h2.2v2.9h-2.2zM289.9 291.0h6.3v2.9h-6.3zM298.1 291.0h6.3v2.9h-6.3zM114.3 293.7h2.2v2.9h-2.2zM271.5 293.7h14.4v2.9h-14.4zM289.9 293.7h6.3v2.9h-6.3zM298.1 293.7h4.2v2.9h-4.2zM267.5 296.4h4.2v2.9h-4.2zM277.7 296.4h8.3v2.9h-8.3zM287.9 296.4h12.4v2.9h-12.4zM265.4 299.2h4.2v2.9h-4.2zM238.9 301.9h4.2v2.9h-4.2zM212.3 307.3h4.2v2.9h-4.2zM212.3 310.1h6.3v2.9h-6.3zM202.1 312.8h6.3v2.9h-6.3zM212.3 312.8h6.3v2.9h-6.3zM204.1 315.5h2.2v2.9h-2.2z"/>
<path fill="#5AD8A6" d="M328.7 266.5h2.2v2.9h-2.2zM330.8 271.9h4.2v2.9h-4.2zM326.7 274.7h8.3v2.9h-8.3zM328.7 277.4h6.3v2.9h-6.3zM328.7 280.1h6.3v2.9h-6.3zM330.8 282.8h2.2v2.9h-2.2zM126.5 293.7h2.2v2.9h-2.2z"/>
<path fill="#5D7092" d="M322.6 285.6h2.2v2.9h-2.2zM320.6 288.3h6.3v2.9h-6.3zM318.5 291.0h4.2v2.9h-4.2zM324.6 291.0h2.2v2.9h-2.2zM320.6 293.7h2.2v2.9h-2.2zM322.6 296.4h2.2v2.9h-2.2z"/>
<path fill="#F6BD16" d="M300.1 242.0h2.2v2.9h-2.2zM234.8 285.6h2.2v2.9h-2.2zM226.6 288.3h2.2v2.9h-2.2zM230.7 288.3h2.2v2.9h-2.2zM238.9 288.3h2.2v2.9h-2.2zM318.5 288.3h2.2v2.9h-2.2zM326.7 288.3h2.2v2.9h-2.2zM108.1 291.0h2.2v2.9h-2.2zM236.8 291.0h2.2v2.9h-2.2zM314.4 291.0h4.2v2.9h-4.2zM322.6 291.0h2.2v2.9h-2.2zM326.7 291.0h2.2v2.9h-2.2zM226.6 293.7h2.2v2.9h-2.2zM316.5 293.7h4.2v2.9h-4.2zM326.7 293.7h2.2v2.9h-2.2zM312.4 296.4h2.2v2.9h-2.2zM316.5 296.4h6.3v2.9h-6.3zM326.7 296.4h2.2v2.9h-2.2zM310.4 299.2h22.6v2.9h-22.6zM312.4 301.9h14.4v2.9h-14.4zM328.7 301.9h4.2v2.9h-4.2zM312.4 304.6h4.2v2.9h-4.2zM318.5 304.6h2.2v2.9h-2.2zM324.6 304.6h2.2v2.9h-2.2zM328.7 304.6h4.2v2.9h-4.2zM310.4 307.3h6.3v2.9h-6.3zM322.6 307.3h10.4v2.9h-10.4zM310.4 310.1h20.6v2.9h-20.6zM312.4 312.8h4.2v2.9h-4.2zM326.7 312.8h4.2v2.9h-4.2zM316.5 315.5h2.2v2.9h-2.2zM324.6 315.5h4.2v2.9h-4.2z"/>
<path fill="#E8684A" d="M281.8 228.4h4.2v2.9h-4.2zM281.8 231.1h2.2v2.9h-2.2zM287.9 231.1h2.2v2.9h-2.2zM279.7 233.8h2.2v2.9h-2.2zM292.0 233.8h2.2v2.9h-2.2zM85.7 236.6h4.2v2.9h-4.2zM296.1 236.6h8.3v2.9h-8.3zM71.4 239.3h6.3v2.9h-6.3zM79.6 239.3h4.2v2.9h-4.2zM85.7 239.3h4.2v2.9h-4.2zM296.1 239.3h2.2v2.9h-2.2zM304.2 239.3h10.4v2.9h-10.4zM67.3 242.0h12.4v2.9h-12.4zM83.6 242.0h8.3v2.9h-8.3zM93.8 242.0h2.2v2.9h-2.2zM296.1 242.0h2.2v2.9h-2.2zM302.2 242.0h4.2v2.9h-4.2zM312.4 242.0h4.2v2.9h-4.2zM63.2 244.7h32.8v2.9h-32.8zM97.9 244.7h4.2v2.9h-4.2zM247.0 244.7h4.2v2.9h-4.2zM259.3 244.7h2.2v2.9h-2.2zM265.4 244.7h2.2v2.9h-2.2zM277.7 244.7h2.2v2.9h-2.2zM296.1 244.7h2.2v2.9h-2.2zM302.2 244.7h4.2v2.9h-4.2zM312.4 244.7h8.3v2.9h-8.3zM324.6 244.7h10.4v2.9h-10.4zM63.2 247.4h41.0v2.9h-41.0zM242.9 247.4h16.5v2.9h-16.5zM275.6 247.4h2.2v2.9h-2.2zM296.1 247.4h2.2v2.9h-2.2zM300.1 247.4h22.6v2.9h-22.6zM324.6 247.4h14.4v2.9h-14.4zM61.2 250.2h8.3v2.9h-8.3zM73.4 250.2h30.8v2.9h-30.8zM179.6 250.2h8.3v2.9h-8.3zM236.8 250.2h16.5v2.9h-16.5zM296.1 250.2h18.5v2.9h-18.5zM316.5 250.2h2.2v2.9h-2.2zM322.6 250.2h6.3v2.9h-6.3zM332.8 250.2h8.3v2.9h-8.3zM59.1 252.9h45.1v2.9h-45.1zM165.3 252.9h24.7v2.9h-24.7zM236.8 252.9h16.5v2.9h-16.5zM259.3 252.9h2.2v2.9h-2.2zM289.9 252.9h2.2v2.9h-2.2zM294.0 252.9h30.8v2.9h-30.8zM330.8 252.9h12.4v2.9h-12.4zM59.1 255.6h14.4v2.9h-14.4zM75.5 255.6h2.2v2.9h-2.2zM81.6 255.6h4.2v2.9h-4.2zM89.8 255.6h14.4v2.9h-14.4zM163.3 255.6h28.7v2.9h-28.7zM196.0 255.6h20.6v2.9h-20.6zM224.6 255.6h2.2v2.9h-2.2zM232.7 255.6h28.7v2.9h-28.7zM263.4 255.6h4.2v2.9h-4.2zM289.9 255.6h4.2v2.9h-4.2zM296.1 255.6h2.2v2.9h-2.2zM300.1 255.6h2.2v2.9h-2.2zM304.2 255.6h6.3v2.9h-6.3zM312.4 255.6h12.4v2.9h-12.4zM326.7 255.6h2.2v2.9h-2.2zM332.8 255.6h2.2v2.9h-2.2zM341.0 255.6h2.2v2.9h-2.2zM345.1 255.6h2.2v2.9h-2.2zM61.2 258.3h12.4v2.9h-12.4zM79.6 258.3h26.7v2.9h-26.7zM118.4 258.3h8.3v2.9h-8.3zM163.3 258.3h57.3v2.9h-57.3zM224.6 258.3h39.0v2.9h-39.0zM265.4 258.3h2.2v2.9h-2.2zM294.0 258.3h2.2v2.9h-2.2zM298.1 258.3h2.2v2.9h-2.2zM302.2 258.3h12.4v2.9h-12.4zM318.5 258.3h2.2v2.9h-2.2zM322.6 258.3h4.2v2.9h-4.2zM345.1 258.3h4.2v2.9h-4.2zM63.2 261.1h10.4v2.9h-10.4zM83.6 261.1h26.7v2.9h-26.7zM114.3 261.1h4.2v2.9h-4.2zM122.4 261.1h4.2v2.9h-4.2zM161.2 261.1h102.3v2.9h-102.3zM300.1 261.1h4.2v2.9h-4.2zM306.3 261.1h2.2v2.9h-2.2zM326.7 261.1h4.2v2.9h-4.2zM338.9 261.1h2.2v2.9h-2.2zM345.1 261.1h6.3v2.9h-6.3zM65.3 263.8h8.3v2.9h-8.3zM81.6 263.8h36.9v2.9h-36.9zM124.5 263.8h4.2v2.9h-4.2zM144.9 263.8h8.3v2.9h-8.3zM159.2 263.8h57.3v2.9h-57.3zM218.4 263.8h43.0v2.9h-43.0zM308.3 263.8h12.4v2.9h-12.4zM330.8 263.8h6.3v2.9h-6.3zM343.0 263.8h4.2v2.9h-4.2zM349.2 263.8h4.2v2.9h-4.2zM69.3 266.5h61.4v2.9h-61.4zM136.7 266.5h18.5v2.9h-18.5zM157.2 266.5h6.3v2.9h-6.3zM165.3 266.5h51.2v2.9h-51.2zM218.4 266.5h43.0v2.9h-43.0zM283.8 266.5h6.3v2.9h-6.3zM308.3 266.5h4.2v2.9h-4.2zM314.4 266.5h2.2v2.9h-2.2zM320.6 266.5h8.3v2.9h-8.3zM330.8 266.5h4.2v2.9h-4.2zM343.0 266.5h2.2v2.9h-2.2zM347.1 266.5h6.3v2.9h-6.3zM71.4 269.2h2.2v2.9h-2.2zM77.5 269.2h75.7v2.9h-75.7zM159.2 269.2h106.4v2.9h-106.4zM281.8 269.2h12.4v2.9h-12.4zM308.3 269.2h2.2v2.9h-2.2zM312.4 269.2h4.2v2.9h-4.2zM320.6 269.2h16.5v2.9h-16.5zM343.0 269.2h2.2v2.9h-2.2zM347.1 269.2h2.2v2.9h-2.2zM353.2 269.2h2.2v2.9h-2.2zM75.5 271.9h28.7v2.9h-28.7zM106.1 271.9h43.0v2.9h-43.0zM151.0 271.9h10.4v2.9h-10.4zM169.4 271.9h22.6v2.9h-22.6zM193.9 271.9h67.6v2.9h-67.6zM277.7 271.9h6.3v2.9h-6.3zM287.9 271.9h4.2v2.9h-4.2zM296.1 271.9h4.2v2.9h-4.2zM306.3 271.9h2.2v2.9h-2.2zM314.4 271.9h4.2v2.9h-4.2zM324.6 271.9h6.3v2.9h-6.3zM334.9 271.9h2.2v2.9h-2.2zM349.2 271.9h2.2v2.9h-2.2zM353.2 271.9h2.2v2.9h-2.2zM79.6 274.7h186.0v2.9h-186.0zM275.6 274.7h6.3v2.9h-6.3zM285.8 274.7h2.2v2.9h-2.2zM294.0 274.7h2.2v2.9h-2.2zM302.2 274.7h4.2v2.9h-4.2zM308.3 274.7h2.2v2.9h-2.2zM312.4 274.7h4.2v2.9h-4.2zM318.5 274.7h2.2v2.9h-2.2zM324.6 274.7h2.2v2.9h-2.2zM334.9 274.7h10.4v2.9h-10.4zM351.2 274.7h4.2v2.9h-4.2zM81.6 277.4h10.4v2.9h-10.4zM97.9 277.4h75.7v2.9h-75.7zM179.6 277.4h90.0v2.9h-90.0zM279.7 277.4h2.2v2.9h-2.2zM283.8 277.4h2.2v2.9h-2.2zM298.1 277.4h2.2v2.9h-2.2zM302.2 277.4h2.2v2.9h-2.2zM306.3 277.4h6.3v2.9h-6.3zM314.4 277.4h2.2v2.9h-2.2zM320.6 277.4h8.3v2.9h-8.3zM334.9 277.4h4.2v2.9h-4.2zM341.0 277.4h6.3v2.9h-6.3zM83.6 280.1h65.5v2.9h-65.5zM151.0 280.1h18.5v2.9h-18.5zM181.7 280.1h90.0v2.9h-90.0zM281.8 280.1h2.2v2.9h-2.2zM287.9 280.1h2.2v2.9h-2.2zM304.2 280.1h2.2v2.9h-2.2zM314.4 280.1h2.2v2.9h-2.2zM318.5 280.1h2.2v2.9h-2.2zM322.6 280.1h6.3v2.9h-6.3zM334.9 280.1h10.4v2.9h-10.4zM85.7 282.8h77.8v2.9h-77.8zM167.4 282.8h2.2v2.9h-2.2zM183.7 282.8h8.3v2.9h-8.3zM193.9 282.8h77.8v2.9h-77.8zM277.7 282.8h2.2v2.9h-2.2zM310.4 282.8h6.3v2.9h-6.3zM322.6 282.8h8.3v2.9h-8.3zM332.8 282.8h8.3v2.9h-8.3zM87.7 285.6h4.2v2.9h-4.2zM100.0 285.6h4.2v2.9h-4.2zM106.1 285.6h51.2v2.9h-51.2zM187.8 285.6h47.1v2.9h-47.1zM236.8 285.6h34.9v2.9h-34.9zM273.6 285.6h6.3v2.9h-6.3zM316.5 285.6h6.3v2.9h-6.3zM324.6 285.6h14.4v2.9h-14.4zM102.0 288.3h2.2v2.9h-2.2zM106.1 288.3h51.2v2.9h-51.2zM171.5 288.3h2.2v2.9h-2.2zM189.8 288.3h2.2v2.9h-2.2zM193.9 288.3h32.8v2.9h-32.8zM228.7 288.3h2.2v2.9h-2.2zM232.7 288.3h6.3v2.9h-6.3zM240.9 288.3h30.8v2.9h-30.8zM296.1 288.3h4.2v2.9h-4.2zM308.3 288.3h4.2v2.9h-4.2zM328.7 288.3h4.2v2.9h-4.2zM102.0 291.0h6.3v2.9h-6.3zM110.2 291.0h22.6v2.9h-22.6zM134.7 291.0h10.4v2.9h-10.4zM151.0 291.0h28.7v2.9h-28.7zM187.8 291.0h49.2v2.9h-49.2zM238.9 291.0h30.8v2.9h-30.8zM275.6 291.0h2.2v2.9h-2.2zM283.8 291.0h2.2v2.9h-2.2zM287.9 291.0h2.2v2.9h-2.2zM296.1 291.0h2.2v2.9h-2.2zM308.3 291.0h2.2v2.9h-2.2zM328.7 291.0h2.2v2.9h-2.2zM106.1 293.7h8.3v2.9h-8.3zM116.3 293.7h6.3v2.9h-6.3zM128.6 293.7h2.2v2.9h-2.2zM151.0 293.7h75.7v2.9h-75.7zM228.7 293.7h43.0v2.9h-43.0zM285.8 293.7h4.2v2.9h-4.2zM296.1 293.7h2.2v2.9h-2.2zM302.2 293.7h6.3v2.9h-6.3zM108.1 296.4h4.2v2.9h-4.2zM116.3 296.4h4.2v2.9h-4.2zM155.1 296.4h4.2v2.9h-4.2zM179.6 296.4h88.0v2.9h-88.0zM285.8 296.4h2.2v2.9h-2.2zM300.1 296.4h12.4v2.9h-12.4zM314.4 296.4h2.2v2.9h-2.2zM183.7 299.2h79.8v2.9h-79.8zM294.0 299.2h16.5v2.9h-16.5zM193.9 301.9h45.1v2.9h-45.1zM242.9 301.9h16.5v2.9h-16.5zM300.1 301.9h6.3v2.9h-6.3zM308.3 301.9h2.2v2.9h-2.2zM196.0 304.6h45.1v2.9h-45.1zM304.2 304.6h6.3v2.9h-6.3zM320.6 304.6h4.2v2.9h-4.2zM196.0 307.3h16.5v2.9h-16.5zM216.4 307.3h14.4v2.9h-14.4zM308.3 307.3h2.2v2.9h-2.2zM320.6 307.3h2.2v2.9h-2.2zM198.0 310.1h14.4v2.9h-14.4zM218.4 310.1h10.4v2.9h-10.4zM330.8 310.1h2.2v2.9h-2.2zM198.0 312.8h4.2v2.9h-4.2zM208.2 312.8h4.2v2.9h-4.2zM316.5 312.8h10.4v2.9h-10.4zM330.8 312.8h2.2v2.9h-2.2zM198.0 315.5h6.3v2.9h-6.3zM206.2 315.5h8.3v2.9h-8.3zM318.5 315.5h6.3v2.9h-6.3zM328.7 315.5h2.2v2.9h-2.2zM198.0 318.2h14.4v2.9h-14.4zM200.1 320.9h10.4v2.9h-10.4z"/>
<path fill="#9270CA" d="M322.6 293.7h4.2v2.9h-4.2zM324.6 296.4h2.2v2.9h-2.2zM326.7 301.9h2.2v2.9h-2.2zM316.5 304.6h2.2v2.9h-2.2zM326.7 304.6h2.2v2.9h-2.2zM316.5 307.3h4.2v2.9h-4.2z"/>
<path fill="#FF9D4D" d="M298.1 239.3h6.3v2.9h-6.3zM298.1 242.0h2.2v2.9h-2.2zM298.1 244.7h4.2v2.9h-4.2zM298.1 247.4h2.2v2.9h-2.2zM322.6 247.4h2.2v2.9h-2.2zM314.4 250.2h2.2v2.9h-2.2zM320.6 250.2h2.2v2.9h-2.2zM328.7 250.2h4.2v2.9h-4.2zM328.7 252.9h2.2v2.9h-2.2zM294.0 255.6h2.2v2.9h-2.2zM298.1 255.6h2.2v2.9h-2.2zM302.2 255.6h2.2v2.9h-2.2zM324.6 255.6h2.2v2.9h-2.2zM328.7 255.6h2.2v2.9h-2.2zM334.9 255.6h2.2v2.9h-2.2zM296.1 258.3h2.2v2.9h-2.2zM314.4 258.3h2.2v2.9h-2.2zM320.6 258.3h2.2v2.9h-2.2zM326.7 258.3h2.2v2.9h-2.2zM332.8 258.3h2.2v2.9h-2.2zM308.3 261.1h10.4v2.9h-10.4zM322.6 261.1h4.2v2.9h-4.2zM312.4 266.5h2.2v2.9h-2.2zM306.3 269.2h2.2v2.9h-2.2zM191.9 271.9h2.2v2.9h-2.2zM294.0 271.9h2.2v2.9h-2.2zM304.2 271.9h2.2v2.9h-2.2zM308.3 271.9h2.2v2.9h-2.2zM298.1 274.7h2.2v2.9h-2.2zM310.4 274.7h2.2v2.9h-2.2zM173.5 277.4h6.3v2.9h-6.3zM294.0 277.4h4.2v2.9h-4.2zM169.4 280.1h12.4v2.9h-12.4zM296.1 280.1h8.3v2.9h-8.3zM163.3 282.8h4.2v2.9h-4.2zM169.4 282.8h14.4v2.9h-14.4zM191.9 282.8h2.2v2.9h-2.2zM157.2 285.6h30.8v2.9h-30.8zM304.2 285.6h4.2v2.9h-4.2zM157.2 288.3h14.4v2.9h-14.4zM173.5 288.3h16.5v2.9h-16.5zM191.9 288.3h2.2v2.9h-2.2zM304.2 288.3h2.2v2.9h-2.2zM179.6 291.0h8.3v2.9h-8.3zM304.2 291.0h4.2v2.9h-4.2zM308.3 293.7h2.2v2.9h-2.2z"/>
<path fill="#269A99" d="M318.5 250.2h2.2v2.9h-2.2zM324.6 252.9h2.2v2.9h-2.2zM310.4 255.6h2.2v2.9h-2.2zM314.4 288.3h4.2v2.9h-4.2zM328.7 293.7h4.2v2.9h-4.2zM328.7 296.4h4.2v2.9h-4.2zM310.4 301.9h2.2v2.9h-2.2zM310.4 304.6h2.2v2.9h-2.2z"/>
<path fill="#FF99C3" d="M316.5 258.3h2.2v2.9h-2.2zM73.4 269.2h4.2v2.9h-4.2zM341.0 271.9h4.2v2.9h-4.2zM316.5 277.4h4.2v2.9h-4.2zM316.5 280.1h2.2v2.9h-2.2zM320.6 280.1h2.2v2.9h-2.2zM316.5 282.8h6.3v2.9h-6.3zM310.4 285.6h6.3v2.9h-6.3zM312.4 288.3h2.2v2.9h-2.2zM310.4 291.0h4.2v2.9h-4.2zM310.4 293.7h6.3v2.9h-6.3zM306.3 301.9h2.2v2.9h-2.2z"/>
</g>
<path d="M59.0 251.9 L60.6 250.6 L62.0 248.9 L64.0 248.4 L65.5 247.3 L67.0 245.9 L66.6 243.9 L66.7 241.9 L67.0 239.9 L68.7 240.2 L70.3 238.8 L72.0 239.3 L73.3 239.0 L74.0 237.9 L75.2 239.5 L77.0 240.5 L78.7 241.0 L80.4 241.2 L82.0 241.9 L83.6 242.1 L85.0 242.9 L85.7 241.2 L86.9 239.9 L88.0 238.4 L89.0 236.9 L90.0 236.2 L91.0 235.3 L91.5 237.1 L93.0 237.9 L94.9 237.6 L96.4 236.5 L97.1 237.8 L98.0 238.9 L97.5 241.0 L98.8 242.9 L98.6 244.9 L100.2 246.1 L101.0 247.9 L101.9 249.4 L103.5 250.2 L104.0 251.9 L104.1 253.6 L103.0 254.9 L103.3 256.6 L103.7 258.3 L104.0 259.9 L105.1 261.8 L107.0 262.9 L108.4 264.1 L110.0 264.9 L112.0 264.4 L114.0 263.9 L116.0 263.2 L118.0 262.5 L119.3 261.2 L121.0 260.5 L123.1 260.0 L125.0 260.9 L126.5 261.6 L127.5 262.9 L127.7 264.7 L128.8 266.2 L128.8 267.9 L130.0 268.5 L131.0 269.4 L133.1 268.9 L135.0 269.7 L136.7 269.9 L138.3 268.7 L140.0 268.9 L141.9 267.9 L144.0 267.4 L145.8 266.9 L147.0 265.4 L148.5 264.9 L150.0 264.4 L150.9 265.8 L152.3 266.6 L153.6 267.4 L153.9 268.9 L155.4 269.9 L155.5 271.4 L156.9 270.7 L158.2 269.9 L159.4 268.2 L160.5 266.4 L162.2 265.0 L163.0 262.9 L163.3 261.3 L164.0 259.7 L163.8 257.9 L164.8 256.4 L166.5 255.6 L168.2 254.7 L170.0 254.2 L171.9 253.4 L174.1 254.0 L176.0 253.2 L177.7 252.9 L179.5 253.6 L181.3 253.0 L183.0 252.7 L184.8 252.7 L186.5 252.4 L187.5 253.9 L188.6 255.3 L190.0 256.4 L191.3 257.5 L191.9 259.0 L192.7 260.3 L194.3 259.2 L196.2 258.6 L198.0 257.9 L199.5 256.7 L201.6 257.2 L203.0 255.9 L204.7 255.9 L206.3 256.8 L208.0 256.9 L209.5 256.3 L211.3 256.6 L212.7 255.7 L214.1 257.0 L216.1 257.5 L217.3 259.0 L217.8 260.8 L218.6 262.4 L220.0 263.5 L221.9 263.6 L223.6 262.6 L224.6 261.2 L225.0 259.4 L226.4 258.1 L227.4 256.5 L229.5 255.9 L230.5 254.2 L231.8 252.8 L233.4 251.3 L235.7 251.0 L237.3 249.6 L239.0 248.3 L240.7 247.5 L242.2 246.3 L243.8 245.4 L245.5 244.6 L247.1 243.2 L248.8 241.9 L251.2 241.8 L252.7 240.2 L254.5 239.3 L256.4 238.4 L258.2 239.3 L260.1 239.8 L261.8 240.8 L263.5 240.7 L264.8 239.3 L266.6 239.3 L268.2 239.0 L269.4 237.6 L270.9 236.9 L272.7 236.5 L274.8 236.1 L276.5 234.7 L278.2 233.5 L279.1 232.3 L280.1 231.2 L281.0 229.9 L282.9 230.9 L285.0 230.9 L286.5 231.8 L287.6 233.0 L289.0 233.9 L290.2 235.1 L291.8 235.8 L293.0 236.9 L294.7 237.5 L296.4 238.3 L298.1 239.0 L300.0 238.9 L302.1 238.7 L303.9 240.0 L306.1 239.0 L308.0 239.9 L309.9 240.6 L311.9 241.0 L314.0 240.9 L315.1 242.4 L315.4 244.2 L316.0 245.9 L317.1 247.0 L319.0 246.7 L320.0 247.9 L321.7 248.1 L323.3 248.3 L325.0 247.9 L326.5 246.4 L328.0 244.9 L329.9 245.7 L332.0 245.9 L334.1 246.2 L336.1 246.9 L338.0 247.9 L339.5 249.1 L341.0 250.3 L342.0 251.9 L343.5 253.1 L344.2 255.0 L346.0 255.9 L347.3 257.3 L348.8 258.4 L350.0 259.9 L351.3 261.4 L351.5 263.6 L353.0 264.9 L353.7 266.6 L353.7 268.5 L355.0 269.9 L355.5 271.6 L356.0 273.3 L356.5 274.9 L356.1 276.7 L356.5 278.3 L357.0 279.9 L355.3 279.8 L353.7 280.0 L352.0 279.9 L351.2 277.9 L349.5 276.5 L348.3 278.3 L347.0 279.9 L345.1 281.0 L344.0 282.9 L342.6 284.2 L340.7 284.4 L339.0 284.9 L337.4 285.5 L335.8 286.0 L333.7 286.2 L332.0 287.6 L331.5 289.7 L330.4 291.4 L330.0 293.1 L330.4 294.7 L330.5 296.3 L330.8 297.7 L331.5 299.1 L331.7 300.6 L331.5 302.1 L332.5 303.4 L332.5 305.1 L332.0 306.7 L332.0 308.2 L332.1 309.7 L331.5 311.1 L331.8 313.1 L330.9 314.9 L329.4 316.2 L327.6 316.7 L325.6 316.5 L323.8 317.3 L322.3 317.2 L321.1 317.9 L319.6 318.1 L318.4 317.1 L317.4 315.9 L316.2 314.9 L314.8 314.2 L313.5 313.3 L312.8 311.9 L311.8 310.5 L310.9 309.0 L309.6 307.8 L307.8 307.0 L306.4 305.6 L305.8 304.1 L304.2 303.4 L302.5 302.7 L300.9 301.8 L300.3 300.4 L299.3 299.1 L298.0 299.3 L296.7 299.8 L295.0 299.7 L293.5 298.7 L291.6 299.1 L289.8 298.5 L288.0 298.1 L286.2 297.6 L284.4 297.4 L282.5 297.6 L281.1 297.0 L279.5 297.4 L278.2 296.5 L276.9 295.6 L275.4 295.4 L273.8 295.4 L272.3 294.4 L270.5 294.4 L270.1 295.9 L269.3 297.2 L269.5 298.7 L268.7 299.8 L267.3 299.8 L265.7 299.2 L264.6 298.1 L264.0 296.5 L263.1 297.9 L261.8 298.7 L260.6 300.4 L259.2 302.0 L257.5 303.1 L256.0 303.4 L254.7 304.5 L253.0 304.2 L251.6 303.6 L250.0 303.6 L248.7 302.6 L247.2 302.9 L246.1 304.3 L244.4 304.2 L242.9 304.5 L241.5 303.6 L240.0 304.2 L238.5 304.7 L236.9 304.8 L235.6 305.7 L233.4 305.9 L231.3 306.4 L230.0 307.9 L229.0 309.6 L228.2 311.0 L226.8 311.8 L225.8 312.9 L223.9 313.2 L222.3 311.8 L220.4 311.8 L218.7 311.9 L217.3 312.8 L216.0 313.9 L214.7 315.6 L212.7 316.2 L212.2 317.8 L211.5 319.2 L210.5 320.5 L209.2 322.3 L207.3 323.2 L205.5 322.5 L203.7 321.8 L201.8 321.6 L200.5 320.8 L200.0 319.1 L198.5 318.4 L199.2 316.8 L198.5 315.0 L199.7 313.5 L199.6 311.8 L199.4 310.0 L197.9 308.7 L197.6 306.9 L197.0 305.5 L196.4 304.2 L195.5 302.9 L194.4 301.7 L192.7 301.2 L191.8 299.6 L190.0 299.8 L188.2 300.3 L186.4 299.6 L184.7 298.8 L182.7 298.7 L181.7 297.0 L180.0 295.9 L178.1 295.8 L176.4 295.1 L174.3 294.3 L172.3 293.6 L170.0 293.5 L168.1 293.4 L166.5 294.8 L164.7 295.4 L162.7 295.1 L160.8 295.5 L159.2 296.7 L157.3 296.9 L155.8 296.2 L154.5 295.2 L152.7 295.1 L152.0 293.3 L151.2 291.6 L151.0 289.6 L149.1 288.8 L147.3 287.9 L145.9 288.9 L145.2 290.7 L143.6 291.4 L141.5 292.2 L139.5 293.2 L137.3 293.3 L136.5 292.0 L135.8 290.6 L134.5 289.6 L132.8 290.2 L131.0 290.5 L130.5 292.2 L129.5 293.7 L129.3 295.5 L128.2 296.9 L127.3 295.6 L126.8 294.0 L126.4 292.4 L124.6 292.8 L122.9 293.6 L121.0 293.3 L119.7 295.0 L119.0 296.9 L117.8 296.1 L116.5 295.5 L115.2 295.5 L114.0 294.9 L112.2 296.3 L110.0 296.5 L108.7 295.2 L107.0 294.5 L105.5 293.8 L104.4 292.8 L103.6 291.3 L102.7 290.0 L102.2 288.6 L102.4 286.9 L101.6 285.5 L99.9 285.2 L99.0 283.9 L97.2 283.5 L95.6 282.5 L94.0 283.4 L93.0 284.9 L91.0 285.3 L89.0 285.9 L87.6 284.5 L86.9 282.6 L86.0 280.9 L84.9 279.0 L83.0 277.9 L81.5 276.7 L80.5 275.1 L79.0 273.9 L77.3 273.2 L76.5 271.4 L75.0 270.5 L73.6 269.0 L71.9 267.8 L70.0 266.9 L68.5 265.4 L66.6 264.4 L65.0 262.9 L63.5 262.0 L63.0 260.2 L62.0 258.9 L61.5 257.1 L60.0 255.8 L59.6 253.9Z" fill="none" stroke="#000" stroke-width="1.15" stroke-linejoin="round"/>
<path d="M127.8 263.9 L128.7 265.8 L128.5 267.9 L128.7 269.8 L128.7 271.6 L129.0 273.4 L130.5 274.6 L131.4 276.2 L132.0 277.9 L133.0 279.3 L135.0 279.2 L136.0 280.5 L138.0 280.1 L140.0 281.4 L142.0 280.9 L144.0 281.0 L146.0 280.5 L148.0 280.5 L149.0 281.2 L150.0 281.9 L151.9 282.8 L154.1 283.0 L156.0 283.9 L158.1 283.8 L159.9 285.0 L162.0 284.9 L164.0 284.9 L166.0 284.4 L168.1 284.6 L170.0 283.9 L171.5 284.7 L172.7 286.0 L174.7 285.8 L176.0 286.9 L177.3 288.3 L178.7 289.6 L180.0 290.9 L180.9 292.2 L181.2 293.7 L182.0 294.9 L182.7 296.8 L182.7 298.7" fill="none" stroke="#000" stroke-width="1.0" stroke-linejoin="round"/>
<path d="M226.4 258.1 L228.6 258.4 L230.4 259.9 L232.7 259.9 L234.5 260.7 L236.1 261.8 L237.5 263.1 L239.0 264.4 L239.9 265.9 L239.8 267.7 L241.0 269.1 L241.0 270.8 L241.8 272.4 L243.0 273.6 L244.5 274.4 L246.3 274.4 L247.5 275.8 L249.0 276.3 L250.7 275.5 L252.6 275.4 L254.5 275.4 L256.7 275.3 L258.8 275.4 L261.0 275.4 L261.4 273.8 L262.4 272.3 L261.9 270.5 L262.7 268.9 L263.8 267.5 L265.6 266.9 L267.2 266.0 L268.2 264.4 L270.2 263.5 L271.7 262.1 L272.5 259.8 L274.5 258.9 L276.1 257.5 L276.9 255.4 L278.3 253.8 L279.0 251.7 L279.5 249.8 L280.0 247.7 L281.0 245.9 L281.2 243.9 L280.8 241.9 L280.3 239.9 L280.9 238.1 L280.4 236.2 L281.0 234.4 L280.5 232.9 L281.4 231.4 L281.0 229.9" fill="none" stroke="#000" stroke-width="1.0" stroke-linejoin="round"/>
<path d="M291.0 235.1 L289.3 235.8 L288.0 236.9 L287.0 238.4 L285.7 239.3 L285.3 241.0 L284.0 241.9 L283.8 243.9 L282.6 245.4 L282.2 246.8 L283.0 247.9 L284.1 249.3 L285.5 250.4 L287.6 250.9 L289.0 252.6 L290.7 251.7 L291.5 249.9 L293.0 251.3 L295.0 251.4 L296.8 252.4 L298.1 254.1 L300.0 254.9 L301.2 253.7 L303.0 253.4 L304.6 254.6 L306.0 255.9 L305.9 258.0 L306.8 259.9 L307.0 261.9 L308.3 263.3 L310.0 264.2 L311.0 265.9 L312.0 267.9 L313.7 269.3 L315.0 270.9 L316.0 272.8 L316.0 275.1 L317.0 276.9 L316.1 278.8 L316.5 280.9 L315.3 282.1 L314.0 283.2 L312.6 284.2 L312.0 285.9 L311.1 287.7 L309.2 288.5 L308.0 289.9 L306.3 290.7 L305.9 292.8 L304.5 294.0 L303.0 294.9 L301.7 296.3 L300.3 297.5 L299.3 299.1" fill="none" stroke="#000" stroke-width="1.0" stroke-linejoin="round"/>
<rect x="38.70" y="209.33" width="326.80" height="122.50" fill="none" stroke="#222" stroke-width="0.8"/>
<path d="M38.70 331.83v3.20M38.70 209.33v-3.20M59.12 331.83v1.40M59.12 209.33v-1.40M79.55 331.83v1.40M79.55 209.33v-1.40M99.98 331.83v3.20M99.98 209.33v-3.20M120.40 331.83v1.40M120.40 209.33v-1.40M140.82 331.83v1.40M140.82 209.33v-1.40M161.25 331.83v3.20M161.25 209.33v-3.20M181.68 331.83v1.40M181.68 209.33v-1.40M202.10 331.83v1.40M202.10 209.33v-1.40M222.53 331.83v3.20M222.53 209.33v-3.20M242.95 331.83v1.40M242.95 209.33v-1.40M263.38 331.83v1.40M263.38 209.33v-1.40M283.80 331.83v3.20M283.80 209.33v-3.20M304.23 331.83v1.40M304.23 209.33v-1.40M324.65 331.83v1.40M324.65 209.33v-1.40M345.07 331.83v3.20M345.07 209.33v-3.20M365.50 331.83v1.40M365.50 209.33v-1.40M38.70 209.33h-3.60M365.50 209.33h3.60M38.70 222.94h-1.40M365.50 222.94h1.40M38.70 236.55h-1.40M365.50 236.55h1.40M38.70 250.16h-1.40M365.50 250.16h1.40M38.70 263.77h-3.60M365.50 263.77h3.60M38.70 277.39h-1.40M365.50 277.39h1.40M38.70 291.00h-1.40M365.50 291.00h1.40M38.70 304.61h-1.40M365.50 304.61h1.40M38.70 318.22h-3.60M365.50 318.22h3.60M38.70 331.83h-1.40M365.50 331.83h1.40" stroke="#222" stroke-width="0.7" fill="none"/>
<text transform="translate(38.7 346.4) scale(1.12 1)" text-anchor="middle" class="ax">81˚E</text>
<text transform="translate(100.0 346.4) scale(1.12 1)" text-anchor="middle" class="ax">84˚E</text>
<text transform="translate(161.2 346.4) scale(1.12 1)" text-anchor="middle" class="ax">87˚E</text>
<text transform="translate(222.5 346.4) scale(1.12 1)" text-anchor="middle" class="ax">90˚E</text>
<text transform="translate(283.8 346.4) scale(1.12 1)" text-anchor="middle" class="ax">93˚E</text>
<text transform="translate(345.1 346.4) scale(1.12 1)" text-anchor="middle" class="ax">96˚E</text>
<text transform="translate(32.3 213.7) scale(1.12 1)" text-anchor="end" class="ax">32˚N</text>
<text transform="translate(32.3 268.2) scale(1.12 1)" text-anchor="end" class="ax">30˚N</text>
<text transform="translate(32.3 322.6) scale(1.12 1)" text-anchor="end" class="ax">28˚N</text>
<text transform="translate(44.3 223.0) scale(1.085 1)" class="vn">TEM</text>
<text transform="translate(24 190.3) scale(1.12 1)" text-anchor="end" class="hd">c.</text>
<text transform="translate(434 193.4) scale(1.12 1)" text-anchor="end" class="hd">d.</text>
<path d="M481.00 270.53L481.00 208.93A61.60 61.60 0 0 1 542.59 269.37Z" fill="#5B8FF9" stroke="#3a3a3a" stroke-width="0.35" stroke-linejoin="round"/>
<path d="M481.00 270.53L542.59 269.37A61.60 61.60 0 0 1 542.57 272.46Z" fill="#5AD8A6" stroke="#3a3a3a" stroke-width="0.35" stroke-linejoin="round"/>
<path d="M481.00 270.53L542.57 272.46A61.60 61.60 0 0 1 541.51 282.07Z" fill="#F6BD16" stroke="#3a3a3a" stroke-width="0.35" stroke-linejoin="round"/>
<path d="M481.00 270.53L541.51 282.07A61.60 61.60 0 1 1 444.17 221.15Z" fill="#E8684A" stroke="#3a3a3a" stroke-width="0.35" stroke-linejoin="round"/>
<path d="M481.00 270.53L444.17 221.15A61.60 61.60 0 0 1 446.70 219.37Z" fill="#9270CA" stroke="#3a3a3a" stroke-width="0.35" stroke-linejoin="round"/>
<path d="M481.00 270.53L446.70 219.37A61.60 61.60 0 0 1 467.94 210.33Z" fill="#FF9D4D" stroke="#3a3a3a" stroke-width="0.35" stroke-linejoin="round"/>
<path d="M481.00 270.53L467.94 210.33A61.60 61.60 0 0 1 470.98 209.75Z" fill="#269A99" stroke="#3a3a3a" stroke-width="0.35" stroke-linejoin="round"/>
<path d="M481.00 270.53L470.98 209.75A61.60 61.60 0 0 1 481.00 208.93Z" fill="#FF99C3" stroke="#3a3a3a" stroke-width="0.35" stroke-linejoin="round"/>
<text x="510.5" y="249.5" text-anchor="middle" class="pl">24.7%</text>
<text x="479.9" y="297.5" text-anchor="middle" class="pl">61.8%</text>
<text x="445.0" y="212.7" text-anchor="middle" class="pl">6.0%</text>
<g shape-rendering="crispEdges">
<path fill="#5B8FF9" d="M279.7 405.3h6.3v2.9h-6.3zM275.6 408.0h14.4v2.9h-14.4zM273.6 410.8h20.6v2.9h-20.6zM89.8 413.5h4.2v2.9h-4.2zM253.2 413.5h2.2v2.9h-2.2zM257.2 413.5h2.2v2.9h-2.2zM273.6 413.5h30.8v2.9h-30.8zM259.3 416.2h2.2v2.9h-2.2zM273.6 416.2h41.0v2.9h-41.0zM247.0 418.9h2.2v2.9h-2.2zM273.6 418.9h43.0v2.9h-43.0zM273.6 421.6h47.1v2.9h-47.1zM324.6 421.6h12.4v2.9h-12.4zM59.1 424.4h4.2v2.9h-4.2zM236.8 424.4h2.2v2.9h-2.2zM273.6 424.4h41.0v2.9h-41.0zM316.5 424.4h24.7v2.9h-24.7zM59.1 427.1h2.2v2.9h-2.2zM230.7 427.1h2.2v2.9h-2.2zM271.5 427.1h71.6v2.9h-71.6zM59.1 429.8h2.2v2.9h-2.2zM271.5 429.8h32.8v2.9h-32.8zM308.3 429.8h14.4v2.9h-14.4zM324.6 429.8h22.6v2.9h-22.6zM59.1 432.5h2.2v2.9h-2.2zM271.5 432.5h30.8v2.9h-30.8zM308.3 432.5h2.2v2.9h-2.2zM312.4 432.5h2.2v2.9h-2.2zM318.5 432.5h30.8v2.9h-30.8zM61.2 435.3h2.2v2.9h-2.2zM65.3 435.3h4.2v2.9h-4.2zM73.4 435.3h4.2v2.9h-4.2zM269.5 435.3h34.9v2.9h-34.9zM306.3 435.3h45.1v2.9h-45.1zM65.3 438.0h4.2v2.9h-4.2zM267.5 438.0h85.9v2.9h-85.9zM267.5 440.7h32.8v2.9h-32.8zM304.2 440.7h51.2v2.9h-51.2zM265.4 443.4h32.8v2.9h-32.8zM306.3 443.4h49.2v2.9h-49.2zM267.5 446.1h32.8v2.9h-32.8zM304.2 446.1h28.7v2.9h-28.7zM334.9 446.1h22.6v2.9h-22.6zM273.6 448.9h51.2v2.9h-51.2zM332.8 448.9h2.2v2.9h-2.2zM336.9 448.9h8.3v2.9h-8.3zM347.1 448.9h10.4v2.9h-10.4zM277.7 451.6h8.3v2.9h-8.3zM287.9 451.6h2.2v2.9h-2.2zM294.0 451.6h6.3v2.9h-6.3zM302.2 451.6h4.2v2.9h-4.2zM308.3 451.6h16.5v2.9h-16.5zM326.7 451.6h2.2v2.9h-2.2zM330.8 451.6h2.2v2.9h-2.2zM336.9 451.6h20.6v2.9h-20.6zM289.9 454.3h2.2v2.9h-2.2zM294.0 454.3h14.4v2.9h-14.4zM310.4 454.3h18.5v2.9h-18.5zM334.9 454.3h22.6v2.9h-22.6zM267.5 457.0h8.3v2.9h-8.3zM283.8 457.0h2.2v2.9h-2.2zM287.9 457.0h6.3v2.9h-6.3zM296.1 457.0h4.2v2.9h-4.2zM308.3 457.0h24.7v2.9h-24.7zM334.9 457.0h12.4v2.9h-12.4zM267.5 459.8h4.2v2.9h-4.2zM273.6 459.8h2.2v2.9h-2.2zM302.2 459.8h2.2v2.9h-2.2zM308.3 459.8h4.2v2.9h-4.2zM314.4 459.8h30.8v2.9h-30.8zM269.5 462.5h4.2v2.9h-4.2zM275.6 462.5h2.2v2.9h-2.2zM289.9 462.5h2.2v2.9h-2.2zM306.3 462.5h4.2v2.9h-4.2zM312.4 462.5h6.3v2.9h-6.3zM320.6 462.5h18.5v2.9h-18.5zM234.8 465.2h2.2v2.9h-2.2zM267.5 465.2h2.2v2.9h-2.2zM271.5 465.2h6.3v2.9h-6.3zM281.8 465.2h8.3v2.9h-8.3zM292.0 465.2h2.2v2.9h-2.2zM302.2 465.2h8.3v2.9h-8.3zM312.4 465.2h6.3v2.9h-6.3zM322.6 465.2h10.4v2.9h-10.4zM273.6 467.9h2.2v2.9h-2.2zM279.7 467.9h18.5v2.9h-18.5zM300.1 467.9h10.4v2.9h-10.4zM312.4 467.9h8.3v2.9h-8.3zM322.6 467.9h8.3v2.9h-8.3zM106.1 470.6h2.2v2.9h-2.2zM275.6 470.6h47.1v2.9h-47.1zM324.6 470.6h8.3v2.9h-8.3zM277.7 473.4h26.7v2.9h-26.7zM310.4 473.4h14.4v2.9h-14.4zM326.7 473.4h6.3v2.9h-6.3zM294.0 476.1h14.4v2.9h-14.4zM310.4 476.1h16.5v2.9h-16.5zM330.8 476.1h2.2v2.9h-2.2zM228.7 478.8h4.2v2.9h-4.2zM300.1 478.8h32.8v2.9h-32.8zM304.2 481.5h22.6v2.9h-22.6zM328.7 481.5h4.2v2.9h-4.2zM308.3 484.3h14.4v2.9h-14.4zM324.6 484.3h2.2v2.9h-2.2zM328.7 484.3h4.2v2.9h-4.2zM212.3 487.0h4.2v2.9h-4.2zM310.4 487.0h8.3v2.9h-8.3zM322.6 487.0h10.4v2.9h-10.4zM214.4 489.7h2.2v2.9h-2.2zM312.4 489.7h8.3v2.9h-8.3zM322.6 489.7h10.4v2.9h-10.4zM316.5 492.4h14.4v2.9h-14.4z"/>
<path fill="#F6BD16" d="M345.1 448.9h2.2v2.9h-2.2zM320.6 467.9h2.2v2.9h-2.2zM226.6 470.6h2.2v2.9h-2.2zM322.6 470.6h2.2v2.9h-2.2zM324.6 473.4h2.2v2.9h-2.2zM326.7 476.1h4.2v2.9h-4.2zM326.7 481.5h2.2v2.9h-2.2zM326.7 484.3h2.2v2.9h-2.2z"/>
<path fill="#E8684A" d="M65.3 416.2h14.4v2.9h-14.4zM263.4 416.2h2.2v2.9h-2.2zM269.5 416.2h2.2v2.9h-2.2zM65.3 418.9h14.4v2.9h-14.4zM83.6 418.9h2.2v2.9h-2.2zM259.3 418.9h14.4v2.9h-14.4zM63.2 421.6h16.5v2.9h-16.5zM81.6 421.6h2.2v2.9h-2.2zM85.7 421.6h2.2v2.9h-2.2zM257.2 421.6h16.5v2.9h-16.5zM63.2 424.4h8.3v2.9h-8.3zM73.4 424.4h6.3v2.9h-6.3zM85.7 424.4h2.2v2.9h-2.2zM249.1 424.4h6.3v2.9h-6.3zM257.2 424.4h6.3v2.9h-6.3zM265.4 424.4h4.2v2.9h-4.2zM314.4 424.4h2.2v2.9h-2.2zM61.2 427.1h16.5v2.9h-16.5zM79.6 427.1h8.3v2.9h-8.3zM245.0 427.1h2.2v2.9h-2.2zM249.1 427.1h4.2v2.9h-4.2zM261.3 427.1h2.2v2.9h-2.2zM61.2 429.8h8.3v2.9h-8.3zM73.4 429.8h14.4v2.9h-14.4zM238.9 429.8h4.2v2.9h-4.2zM245.0 429.8h8.3v2.9h-8.3zM257.2 429.8h2.2v2.9h-2.2zM261.3 429.8h2.2v2.9h-2.2zM304.2 429.8h4.2v2.9h-4.2zM61.2 432.5h10.4v2.9h-10.4zM73.4 432.5h14.4v2.9h-14.4zM238.9 432.5h4.2v2.9h-4.2zM245.0 432.5h2.2v2.9h-2.2zM249.1 432.5h8.3v2.9h-8.3zM259.3 432.5h4.2v2.9h-4.2zM302.2 432.5h6.3v2.9h-6.3zM310.4 432.5h2.2v2.9h-2.2zM314.4 432.5h4.2v2.9h-4.2zM63.2 435.3h2.2v2.9h-2.2zM69.3 435.3h2.2v2.9h-2.2zM77.5 435.3h10.4v2.9h-10.4zM242.9 435.3h8.3v2.9h-8.3zM253.2 435.3h8.3v2.9h-8.3zM304.2 435.3h2.2v2.9h-2.2zM69.3 438.0h18.5v2.9h-18.5zM245.0 438.0h14.4v2.9h-14.4zM67.3 440.7h20.6v2.9h-20.6zM249.1 440.7h8.3v2.9h-8.3zM300.1 440.7h4.2v2.9h-4.2zM71.4 443.4h18.5v2.9h-18.5zM298.1 443.4h8.3v2.9h-8.3zM75.5 446.1h14.4v2.9h-14.4zM300.1 446.1h4.2v2.9h-4.2zM332.8 446.1h2.2v2.9h-2.2zM79.6 448.9h12.4v2.9h-12.4zM324.6 448.9h2.2v2.9h-2.2zM83.6 451.6h6.3v2.9h-6.3zM265.4 451.6h8.3v2.9h-8.3zM285.8 451.6h2.2v2.9h-2.2zM289.9 451.6h4.2v2.9h-4.2zM300.1 451.6h2.2v2.9h-2.2zM306.3 451.6h2.2v2.9h-2.2zM324.6 451.6h2.2v2.9h-2.2zM87.7 454.3h2.2v2.9h-2.2zM259.3 454.3h2.2v2.9h-2.2zM273.6 454.3h4.2v2.9h-4.2zM279.7 454.3h10.4v2.9h-10.4zM292.0 454.3h2.2v2.9h-2.2zM308.3 454.3h2.2v2.9h-2.2zM330.8 454.3h2.2v2.9h-2.2zM263.4 457.0h4.2v2.9h-4.2zM275.6 457.0h4.2v2.9h-4.2zM281.8 457.0h2.2v2.9h-2.2zM285.8 457.0h2.2v2.9h-2.2zM294.0 457.0h2.2v2.9h-2.2zM300.1 457.0h8.3v2.9h-8.3zM281.8 459.8h16.5v2.9h-16.5zM300.1 459.8h2.2v2.9h-2.2zM304.2 459.8h4.2v2.9h-4.2zM312.4 459.8h2.2v2.9h-2.2zM283.8 462.5h4.2v2.9h-4.2zM294.0 462.5h12.4v2.9h-12.4zM294.0 465.2h8.3v2.9h-8.3zM240.9 467.9h2.2v2.9h-2.2zM298.1 467.9h2.2v2.9h-2.2z"/>
<path fill="#9270CA" d="M238.9 459.8h2.2v2.9h-2.2zM161.2 465.2h4.2v2.9h-4.2zM187.8 470.6h2.2v2.9h-2.2z"/>
<path fill="#FF9D4D" d="M87.7 410.8h6.3v2.9h-6.3zM271.5 410.8h2.2v2.9h-2.2zM71.4 413.5h6.3v2.9h-6.3zM85.7 413.5h4.2v2.9h-4.2zM93.8 413.5h4.2v2.9h-4.2zM255.2 413.5h2.2v2.9h-2.2zM265.4 413.5h8.3v2.9h-8.3zM79.6 416.2h20.6v2.9h-20.6zM249.1 416.2h10.4v2.9h-10.4zM261.3 416.2h2.2v2.9h-2.2zM265.4 416.2h4.2v2.9h-4.2zM271.5 416.2h2.2v2.9h-2.2zM79.6 418.9h4.2v2.9h-4.2zM85.7 418.9h14.4v2.9h-14.4zM249.1 418.9h10.4v2.9h-10.4zM79.6 421.6h2.2v2.9h-2.2zM83.6 421.6h2.2v2.9h-2.2zM87.7 421.6h12.4v2.9h-12.4zM238.9 421.6h18.5v2.9h-18.5zM71.4 424.4h2.2v2.9h-2.2zM79.6 424.4h6.3v2.9h-6.3zM87.7 424.4h14.4v2.9h-14.4zM234.8 424.4h2.2v2.9h-2.2zM238.9 424.4h10.4v2.9h-10.4zM255.2 424.4h2.2v2.9h-2.2zM263.4 424.4h2.2v2.9h-2.2zM269.5 424.4h4.2v2.9h-4.2zM77.5 427.1h2.2v2.9h-2.2zM87.7 427.1h16.5v2.9h-16.5zM232.7 427.1h12.4v2.9h-12.4zM247.0 427.1h2.2v2.9h-2.2zM253.2 427.1h8.3v2.9h-8.3zM263.4 427.1h8.3v2.9h-8.3zM69.3 429.8h4.2v2.9h-4.2zM89.8 429.8h12.4v2.9h-12.4zM228.7 429.8h10.4v2.9h-10.4zM242.9 429.8h2.2v2.9h-2.2zM253.2 429.8h4.2v2.9h-4.2zM259.3 429.8h2.2v2.9h-2.2zM263.4 429.8h6.3v2.9h-6.3zM71.4 432.5h2.2v2.9h-2.2zM87.7 432.5h2.2v2.9h-2.2zM91.8 432.5h6.3v2.9h-6.3zM226.6 432.5h12.4v2.9h-12.4zM242.9 432.5h2.2v2.9h-2.2zM247.0 432.5h2.2v2.9h-2.2zM257.2 432.5h2.2v2.9h-2.2zM263.4 432.5h8.3v2.9h-8.3zM71.4 435.3h2.2v2.9h-2.2zM87.7 435.3h2.2v2.9h-2.2zM91.8 435.3h4.2v2.9h-4.2zM216.4 435.3h2.2v2.9h-2.2zM224.6 435.3h4.2v2.9h-4.2zM232.7 435.3h4.2v2.9h-4.2zM240.9 435.3h2.2v2.9h-2.2zM251.1 435.3h2.2v2.9h-2.2zM261.3 435.3h8.3v2.9h-8.3zM63.2 438.0h2.2v2.9h-2.2zM87.7 438.0h6.3v2.9h-6.3zM206.2 438.0h2.2v2.9h-2.2zM210.3 438.0h12.4v2.9h-12.4zM228.7 438.0h4.2v2.9h-4.2zM236.8 438.0h8.3v2.9h-8.3zM261.3 438.0h6.3v2.9h-6.3zM87.7 440.7h6.3v2.9h-6.3zM202.1 440.7h4.2v2.9h-4.2zM208.2 440.7h12.4v2.9h-12.4zM226.6 440.7h4.2v2.9h-4.2zM238.9 440.7h10.4v2.9h-10.4zM257.2 440.7h4.2v2.9h-4.2zM263.4 440.7h4.2v2.9h-4.2zM69.3 443.4h2.2v2.9h-2.2zM89.8 443.4h4.2v2.9h-4.2zM198.0 443.4h12.4v2.9h-12.4zM216.4 443.4h6.3v2.9h-6.3zM224.6 443.4h4.2v2.9h-4.2zM238.9 443.4h26.7v2.9h-26.7zM71.4 446.1h4.2v2.9h-4.2zM89.8 446.1h4.2v2.9h-4.2zM200.1 446.1h4.2v2.9h-4.2zM218.4 446.1h8.3v2.9h-8.3zM240.9 446.1h20.6v2.9h-20.6zM75.5 448.9h4.2v2.9h-4.2zM91.8 448.9h2.2v2.9h-2.2zM200.1 448.9h2.2v2.9h-2.2zM204.1 448.9h4.2v2.9h-4.2zM216.4 448.9h2.2v2.9h-2.2zM242.9 448.9h24.7v2.9h-24.7zM269.5 448.9h4.2v2.9h-4.2zM328.7 448.9h4.2v2.9h-4.2zM334.9 448.9h2.2v2.9h-2.2zM79.6 451.6h4.2v2.9h-4.2zM89.8 451.6h6.3v2.9h-6.3zM208.2 451.6h2.2v2.9h-2.2zM228.7 451.6h2.2v2.9h-2.2zM236.8 451.6h2.2v2.9h-2.2zM242.9 451.6h22.6v2.9h-22.6zM273.6 451.6h4.2v2.9h-4.2zM328.7 451.6h2.2v2.9h-2.2zM332.8 451.6h4.2v2.9h-4.2zM81.6 454.3h6.3v2.9h-6.3zM89.8 454.3h8.3v2.9h-8.3zM236.8 454.3h4.2v2.9h-4.2zM245.0 454.3h14.4v2.9h-14.4zM261.3 454.3h12.4v2.9h-12.4zM277.7 454.3h2.2v2.9h-2.2zM328.7 454.3h2.2v2.9h-2.2zM332.8 454.3h2.2v2.9h-2.2zM83.6 457.0h16.5v2.9h-16.5zM236.8 457.0h6.3v2.9h-6.3zM245.0 457.0h18.5v2.9h-18.5zM279.7 457.0h2.2v2.9h-2.2zM332.8 457.0h2.2v2.9h-2.2zM85.7 459.8h14.4v2.9h-14.4zM234.8 459.8h4.2v2.9h-4.2zM240.9 459.8h2.2v2.9h-2.2zM245.0 459.8h8.3v2.9h-8.3zM257.2 459.8h10.4v2.9h-10.4zM271.5 459.8h2.2v2.9h-2.2zM275.6 459.8h6.3v2.9h-6.3zM298.1 459.8h2.2v2.9h-2.2zM87.7 462.5h4.2v2.9h-4.2zM100.0 462.5h4.2v2.9h-4.2zM128.6 462.5h6.3v2.9h-6.3zM236.8 462.5h6.3v2.9h-6.3zM259.3 462.5h10.4v2.9h-10.4zM273.6 462.5h2.2v2.9h-2.2zM277.7 462.5h6.3v2.9h-6.3zM287.9 462.5h2.2v2.9h-2.2zM292.0 462.5h2.2v2.9h-2.2zM310.4 462.5h2.2v2.9h-2.2zM104.1 465.2h24.7v2.9h-24.7zM130.6 465.2h2.2v2.9h-2.2zM142.9 465.2h4.2v2.9h-4.2zM236.8 465.2h4.2v2.9h-4.2zM247.0 465.2h2.2v2.9h-2.2zM251.1 465.2h2.2v2.9h-2.2zM255.2 465.2h2.2v2.9h-2.2zM259.3 465.2h8.3v2.9h-8.3zM269.5 465.2h2.2v2.9h-2.2zM277.7 465.2h4.2v2.9h-4.2zM289.9 465.2h2.2v2.9h-2.2zM310.4 465.2h2.2v2.9h-2.2zM102.0 467.9h22.6v2.9h-22.6zM126.5 467.9h6.3v2.9h-6.3zM134.7 467.9h2.2v2.9h-2.2zM212.3 467.9h4.2v2.9h-4.2zM236.8 467.9h2.2v2.9h-2.2zM242.9 467.9h2.2v2.9h-2.2zM247.0 467.9h2.2v2.9h-2.2zM257.2 467.9h10.4v2.9h-10.4zM271.5 467.9h2.2v2.9h-2.2zM275.6 467.9h4.2v2.9h-4.2zM310.4 467.9h2.2v2.9h-2.2zM108.1 470.6h10.4v2.9h-10.4zM120.4 470.6h2.2v2.9h-2.2zM206.2 470.6h10.4v2.9h-10.4zM236.8 470.6h8.3v2.9h-8.3zM247.0 470.6h2.2v2.9h-2.2zM255.2 470.6h8.3v2.9h-8.3zM265.4 470.6h8.3v2.9h-8.3zM108.1 473.4h4.2v2.9h-4.2zM116.3 473.4h2.2v2.9h-2.2zM206.2 473.4h12.4v2.9h-12.4zM220.5 473.4h2.2v2.9h-2.2zM234.8 473.4h10.4v2.9h-10.4zM247.0 473.4h16.5v2.9h-16.5zM265.4 473.4h6.3v2.9h-6.3zM304.2 473.4h2.2v2.9h-2.2zM206.2 476.1h10.4v2.9h-10.4zM220.5 476.1h4.2v2.9h-4.2zM236.8 476.1h8.3v2.9h-8.3zM247.0 476.1h14.4v2.9h-14.4zM265.4 476.1h2.2v2.9h-2.2zM308.3 476.1h2.2v2.9h-2.2zM208.2 478.8h6.3v2.9h-6.3zM220.5 478.8h2.2v2.9h-2.2zM236.8 478.8h8.3v2.9h-8.3zM247.0 478.8h12.4v2.9h-12.4zM202.1 481.5h14.4v2.9h-14.4zM220.5 481.5h4.2v2.9h-4.2zM206.2 484.3h2.2v2.9h-2.2zM210.3 484.3h6.3v2.9h-6.3zM218.4 484.3h2.2v2.9h-2.2zM224.6 484.3h2.2v2.9h-2.2zM322.6 484.3h2.2v2.9h-2.2zM318.5 487.0h4.2v2.9h-4.2zM212.3 489.7h2.2v2.9h-2.2zM216.4 489.7h2.2v2.9h-2.2zM320.6 489.7h2.2v2.9h-2.2z"/>
<path fill="#269A99" d="M175.5 432.5h4.2v2.9h-4.2zM165.3 435.3h2.2v2.9h-2.2zM185.8 435.3h2.2v2.9h-2.2zM163.3 438.0h2.2v2.9h-2.2zM169.4 438.0h2.2v2.9h-2.2zM169.4 440.7h2.2v2.9h-2.2zM175.5 440.7h10.4v2.9h-10.4zM165.3 443.4h4.2v2.9h-4.2zM171.5 443.4h2.2v2.9h-2.2zM179.6 443.4h2.2v2.9h-2.2zM183.7 443.4h4.2v2.9h-4.2zM189.8 443.4h4.2v2.9h-4.2zM163.3 446.1h2.2v2.9h-2.2zM167.4 446.1h6.3v2.9h-6.3zM183.7 446.1h4.2v2.9h-4.2zM189.8 446.1h2.2v2.9h-2.2zM167.4 448.9h2.2v2.9h-2.2zM171.5 448.9h2.2v2.9h-2.2zM191.9 448.9h2.2v2.9h-2.2zM151.0 451.6h6.3v2.9h-6.3zM167.4 451.6h4.2v2.9h-4.2zM173.5 451.6h2.2v2.9h-2.2zM183.7 451.6h4.2v2.9h-4.2zM151.0 454.3h8.3v2.9h-8.3zM171.5 454.3h8.3v2.9h-8.3zM183.7 454.3h2.2v2.9h-2.2zM175.5 457.0h2.2v2.9h-2.2zM153.1 459.8h6.3v2.9h-6.3zM165.3 459.8h4.2v2.9h-4.2zM153.1 462.5h16.5v2.9h-16.5zM171.5 462.5h2.2v2.9h-2.2zM175.5 462.5h2.2v2.9h-2.2zM181.7 462.5h6.3v2.9h-6.3zM153.1 465.2h4.2v2.9h-4.2zM159.2 465.2h2.2v2.9h-2.2zM165.3 465.2h2.2v2.9h-2.2zM171.5 465.2h10.4v2.9h-10.4zM183.7 465.2h6.3v2.9h-6.3zM153.1 467.9h18.5v2.9h-18.5zM173.5 467.9h10.4v2.9h-10.4zM157.2 470.6h6.3v2.9h-6.3zM165.3 470.6h6.3v2.9h-6.3zM175.5 470.6h8.3v2.9h-8.3z"/>
<path fill="#FF99C3" d="M97.9 413.5h2.2v2.9h-2.2zM245.0 418.9h2.2v2.9h-2.2zM100.0 421.6h2.2v2.9h-2.2zM102.0 424.4h2.2v2.9h-2.2zM179.6 427.1h8.3v2.9h-8.3zM87.7 429.8h2.2v2.9h-2.2zM102.0 429.8h2.2v2.9h-2.2zM165.3 429.8h24.7v2.9h-24.7zM269.5 429.8h2.2v2.9h-2.2zM322.6 429.8h2.2v2.9h-2.2zM89.8 432.5h2.2v2.9h-2.2zM97.9 432.5h6.3v2.9h-6.3zM163.3 432.5h12.4v2.9h-12.4zM179.6 432.5h12.4v2.9h-12.4zM196.0 432.5h20.6v2.9h-20.6zM224.6 432.5h2.2v2.9h-2.2zM89.8 435.3h2.2v2.9h-2.2zM95.9 435.3h10.4v2.9h-10.4zM118.4 435.3h8.3v2.9h-8.3zM163.3 435.3h2.2v2.9h-2.2zM167.4 435.3h18.5v2.9h-18.5zM187.8 435.3h28.7v2.9h-28.7zM218.4 435.3h2.2v2.9h-2.2zM228.7 435.3h4.2v2.9h-4.2zM236.8 435.3h4.2v2.9h-4.2zM93.8 438.0h16.5v2.9h-16.5zM114.3 438.0h14.4v2.9h-14.4zM161.2 438.0h2.2v2.9h-2.2zM165.3 438.0h4.2v2.9h-4.2zM171.5 438.0h34.9v2.9h-34.9zM208.2 438.0h2.2v2.9h-2.2zM222.5 438.0h6.3v2.9h-6.3zM232.7 438.0h4.2v2.9h-4.2zM259.3 438.0h2.2v2.9h-2.2zM65.3 440.7h2.2v2.9h-2.2zM93.8 440.7h34.9v2.9h-34.9zM144.9 440.7h8.3v2.9h-8.3zM159.2 440.7h10.4v2.9h-10.4zM171.5 440.7h4.2v2.9h-4.2zM185.8 440.7h16.5v2.9h-16.5zM206.2 440.7h2.2v2.9h-2.2zM220.5 440.7h6.3v2.9h-6.3zM230.7 440.7h8.3v2.9h-8.3zM261.3 440.7h2.2v2.9h-2.2zM93.8 443.4h39.0v2.9h-39.0zM136.7 443.4h18.5v2.9h-18.5zM157.2 443.4h8.3v2.9h-8.3zM169.4 443.4h2.2v2.9h-2.2zM173.5 443.4h6.3v2.9h-6.3zM181.7 443.4h2.2v2.9h-2.2zM187.8 443.4h2.2v2.9h-2.2zM193.9 443.4h4.2v2.9h-4.2zM210.3 443.4h6.3v2.9h-6.3zM222.5 443.4h2.2v2.9h-2.2zM228.7 443.4h10.4v2.9h-10.4zM93.8 446.1h69.6v2.9h-69.6zM165.3 446.1h2.2v2.9h-2.2zM173.5 446.1h10.4v2.9h-10.4zM187.8 446.1h2.2v2.9h-2.2zM191.9 446.1h8.3v2.9h-8.3zM204.1 446.1h14.4v2.9h-14.4zM226.6 446.1h14.4v2.9h-14.4zM261.3 446.1h6.3v2.9h-6.3zM93.8 448.9h73.7v2.9h-73.7zM169.4 448.9h2.2v2.9h-2.2zM173.5 448.9h18.5v2.9h-18.5zM193.9 448.9h6.3v2.9h-6.3zM202.1 448.9h2.2v2.9h-2.2zM208.2 448.9h8.3v2.9h-8.3zM218.4 448.9h24.7v2.9h-24.7zM267.5 448.9h2.2v2.9h-2.2zM326.7 448.9h2.2v2.9h-2.2zM95.9 451.6h55.3v2.9h-55.3zM157.2 451.6h10.4v2.9h-10.4zM171.5 451.6h2.2v2.9h-2.2zM175.5 451.6h8.3v2.9h-8.3zM187.8 451.6h20.6v2.9h-20.6zM210.3 451.6h18.5v2.9h-18.5zM230.7 451.6h6.3v2.9h-6.3zM238.9 451.6h4.2v2.9h-4.2zM97.9 454.3h53.3v2.9h-53.3zM159.2 454.3h12.4v2.9h-12.4zM179.6 454.3h4.2v2.9h-4.2zM185.8 454.3h51.2v2.9h-51.2zM240.9 454.3h4.2v2.9h-4.2zM100.0 457.0h75.7v2.9h-75.7zM177.6 457.0h59.4v2.9h-59.4zM242.9 457.0h2.2v2.9h-2.2zM100.0 459.8h53.3v2.9h-53.3zM159.2 459.8h6.3v2.9h-6.3zM169.4 459.8h65.5v2.9h-65.5zM242.9 459.8h2.2v2.9h-2.2zM253.2 459.8h4.2v2.9h-4.2zM104.1 462.5h24.7v2.9h-24.7zM134.7 462.5h18.5v2.9h-18.5zM169.4 462.5h2.2v2.9h-2.2zM173.5 462.5h2.2v2.9h-2.2zM177.6 462.5h4.2v2.9h-4.2zM187.8 462.5h49.2v2.9h-49.2zM242.9 462.5h16.5v2.9h-16.5zM318.5 462.5h2.2v2.9h-2.2zM102.0 465.2h2.2v2.9h-2.2zM128.6 465.2h2.2v2.9h-2.2zM132.7 465.2h10.4v2.9h-10.4zM147.0 465.2h6.3v2.9h-6.3zM157.2 465.2h2.2v2.9h-2.2zM167.4 465.2h4.2v2.9h-4.2zM181.7 465.2h2.2v2.9h-2.2zM189.8 465.2h45.1v2.9h-45.1zM240.9 465.2h6.3v2.9h-6.3zM249.1 465.2h2.2v2.9h-2.2zM253.2 465.2h2.2v2.9h-2.2zM257.2 465.2h2.2v2.9h-2.2zM318.5 465.2h4.2v2.9h-4.2zM124.5 467.9h2.2v2.9h-2.2zM136.7 467.9h8.3v2.9h-8.3zM151.0 467.9h2.2v2.9h-2.2zM171.5 467.9h2.2v2.9h-2.2zM183.7 467.9h28.7v2.9h-28.7zM216.4 467.9h20.6v2.9h-20.6zM238.9 467.9h2.2v2.9h-2.2zM245.0 467.9h2.2v2.9h-2.2zM249.1 467.9h8.3v2.9h-8.3zM267.5 467.9h4.2v2.9h-4.2zM118.4 470.6h2.2v2.9h-2.2zM126.5 470.6h4.2v2.9h-4.2zM151.0 470.6h6.3v2.9h-6.3zM163.3 470.6h2.2v2.9h-2.2zM171.5 470.6h4.2v2.9h-4.2zM183.7 470.6h4.2v2.9h-4.2zM189.8 470.6h16.5v2.9h-16.5zM216.4 470.6h10.4v2.9h-10.4zM228.7 470.6h8.3v2.9h-8.3zM245.0 470.6h2.2v2.9h-2.2zM249.1 470.6h6.3v2.9h-6.3zM263.4 470.6h2.2v2.9h-2.2zM273.6 470.6h2.2v2.9h-2.2zM118.4 473.4h2.2v2.9h-2.2zM155.1 473.4h4.2v2.9h-4.2zM179.6 473.4h26.7v2.9h-26.7zM218.4 473.4h2.2v2.9h-2.2zM222.5 473.4h12.4v2.9h-12.4zM245.0 473.4h2.2v2.9h-2.2zM263.4 473.4h2.2v2.9h-2.2zM306.3 473.4h4.2v2.9h-4.2zM183.7 476.1h22.6v2.9h-22.6zM216.4 476.1h4.2v2.9h-4.2zM224.6 476.1h12.4v2.9h-12.4zM245.0 476.1h2.2v2.9h-2.2zM261.3 476.1h2.2v2.9h-2.2zM267.5 476.1h2.2v2.9h-2.2zM193.9 478.8h14.4v2.9h-14.4zM214.4 478.8h6.3v2.9h-6.3zM222.5 478.8h6.3v2.9h-6.3zM232.7 478.8h4.2v2.9h-4.2zM245.0 478.8h2.2v2.9h-2.2zM196.0 481.5h6.3v2.9h-6.3zM216.4 481.5h4.2v2.9h-4.2zM224.6 481.5h16.5v2.9h-16.5zM196.0 484.3h10.4v2.9h-10.4zM208.2 484.3h2.2v2.9h-2.2zM216.4 484.3h2.2v2.9h-2.2zM220.5 484.3h4.2v2.9h-4.2zM226.6 484.3h4.2v2.9h-4.2zM198.0 487.0h14.4v2.9h-14.4zM216.4 487.0h12.4v2.9h-12.4zM198.0 489.7h14.4v2.9h-14.4zM198.0 492.4h16.5v2.9h-16.5zM198.0 495.1h14.4v2.9h-14.4zM200.1 497.9h10.4v2.9h-10.4z"/>
</g>
<path d="M59.0 428.9 L60.6 427.5 L62.0 425.9 L64.0 425.3 L65.5 424.2 L67.0 422.9 L66.6 420.9 L66.7 418.9 L67.0 416.9 L68.7 417.2 L70.3 415.8 L72.0 416.3 L73.3 415.9 L74.0 414.9 L75.2 416.5 L77.0 417.5 L78.7 417.9 L80.4 418.1 L82.0 418.9 L83.6 419.1 L85.0 419.9 L85.7 418.2 L86.9 416.8 L88.0 415.4 L89.0 413.9 L90.0 413.1 L91.0 412.3 L91.5 414.0 L93.0 414.9 L94.9 414.5 L96.4 413.5 L97.1 414.8 L98.0 415.9 L97.5 417.9 L98.8 419.8 L98.6 421.9 L100.2 423.1 L101.0 424.9 L101.9 426.3 L103.5 427.1 L104.0 428.9 L104.1 430.6 L103.0 431.9 L103.3 433.5 L103.7 435.2 L104.0 436.9 L105.1 438.8 L107.0 439.9 L108.4 441.0 L110.0 441.9 L112.0 441.4 L114.0 440.9 L116.0 440.2 L118.0 439.5 L119.3 438.2 L121.0 437.5 L123.1 437.0 L125.0 437.9 L126.5 438.5 L127.5 439.9 L127.7 441.6 L128.8 443.1 L128.8 444.9 L130.0 445.5 L131.0 446.4 L133.1 445.8 L135.0 446.7 L136.7 446.8 L138.3 445.6 L140.0 445.9 L141.9 444.8 L144.0 444.4 L145.8 443.8 L147.0 442.4 L148.5 441.9 L150.0 441.4 L150.9 442.7 L152.3 443.5 L153.6 444.4 L153.9 445.8 L155.4 446.8 L155.5 448.4 L156.9 447.7 L158.2 446.9 L159.4 445.1 L160.5 443.4 L162.2 441.9 L163.0 439.9 L163.3 438.2 L164.0 436.6 L163.8 434.8 L164.8 433.4 L166.5 432.5 L168.2 431.7 L170.0 431.2 L171.9 430.3 L174.1 430.9 L176.0 430.2 L177.7 429.9 L179.5 430.6 L181.3 429.9 L183.0 429.7 L184.8 429.7 L186.5 429.4 L187.5 430.8 L188.6 432.2 L190.0 433.4 L191.3 434.4 L191.9 435.9 L192.7 437.3 L194.3 436.1 L196.2 435.5 L198.0 434.9 L199.5 433.7 L201.6 434.1 L203.0 432.9 L204.7 432.8 L206.3 433.8 L208.0 433.9 L209.5 433.2 L211.3 433.6 L212.7 432.7 L214.1 433.9 L216.1 434.4 L217.3 436.0 L217.8 437.7 L218.6 439.3 L220.0 440.5 L221.9 440.6 L223.6 439.6 L224.6 438.1 L225.0 436.3 L226.4 435.1 L227.4 433.4 L229.5 432.8 L230.5 431.1 L231.8 429.8 L233.4 428.3 L235.7 428.0 L237.3 426.6 L239.0 425.3 L240.7 424.4 L242.2 423.3 L243.8 422.4 L245.5 421.6 L247.1 420.1 L248.8 418.8 L251.2 418.7 L252.7 417.2 L254.5 416.2 L256.4 415.4 L258.2 416.2 L260.1 416.7 L261.8 417.8 L263.5 417.6 L264.8 416.2 L266.6 416.2 L268.2 416.0 L269.4 414.6 L270.9 413.8 L272.7 413.5 L274.8 413.0 L276.5 411.7 L278.2 410.5 L279.1 409.2 L280.1 408.1 L281.0 406.9 L282.9 407.9 L285.0 407.9 L286.5 408.7 L287.6 410.0 L289.0 410.9 L290.2 412.1 L291.8 412.7 L293.0 413.9 L294.7 414.4 L296.4 415.2 L298.1 415.9 L300.0 415.9 L302.1 415.6 L303.9 417.0 L306.1 415.9 L308.0 416.9 L309.9 417.5 L311.9 418.0 L314.0 417.9 L315.1 419.3 L315.4 421.2 L316.0 422.9 L317.1 423.9 L319.0 423.6 L320.0 424.9 L321.7 425.0 L323.3 425.3 L325.0 424.9 L326.5 423.4 L328.0 421.9 L329.9 422.7 L332.0 422.9 L334.1 423.2 L336.1 423.8 L338.0 424.9 L339.5 426.1 L341.0 427.2 L342.0 428.9 L343.5 430.0 L344.2 432.0 L346.0 432.9 L347.3 434.3 L348.8 435.4 L350.0 436.9 L351.3 438.4 L351.5 440.5 L353.0 441.9 L353.7 443.5 L353.7 445.4 L355.0 446.9 L355.5 448.5 L356.0 450.2 L356.5 451.9 L356.1 453.6 L356.5 455.2 L357.0 456.9 L355.3 456.7 L353.7 457.0 L352.0 456.9 L351.2 454.8 L349.5 453.5 L348.3 455.2 L347.0 456.9 L345.1 457.9 L344.0 459.9 L342.6 461.1 L340.7 461.3 L339.0 461.9 L337.4 462.4 L335.8 463.0 L333.7 463.2 L332.0 464.6 L331.5 466.6 L330.4 468.4 L330.0 470.0 L330.4 471.7 L330.5 473.2 L330.8 474.7 L331.5 476.1 L331.7 477.5 L331.5 479.1 L332.5 480.4 L332.5 482.0 L332.0 483.7 L332.0 485.1 L332.1 486.6 L331.5 488.1 L331.8 490.1 L330.9 491.9 L329.4 493.1 L327.6 493.7 L325.6 493.4 L323.8 494.3 L322.3 494.1 L321.1 494.9 L319.6 495.0 L318.4 494.1 L317.4 492.9 L316.2 491.9 L314.8 491.1 L313.5 490.3 L312.8 488.8 L311.8 487.5 L310.9 486.0 L309.6 484.8 L307.8 483.9 L306.4 482.6 L305.8 481.0 L304.2 480.4 L302.5 479.6 L300.9 478.8 L300.3 477.3 L299.3 476.1 L298.0 476.2 L296.7 476.8 L295.0 476.6 L293.5 475.7 L291.6 476.1 L289.8 475.4 L288.0 475.1 L286.2 474.5 L284.4 474.3 L282.5 474.6 L281.1 473.9 L279.5 474.4 L278.2 473.5 L276.9 472.5 L275.4 472.3 L273.8 472.4 L272.3 471.4 L270.5 471.4 L270.1 472.8 L269.3 474.1 L269.5 475.7 L268.7 476.8 L267.3 476.8 L265.7 476.1 L264.6 475.0 L264.0 473.5 L263.1 474.8 L261.8 475.7 L260.6 477.4 L259.2 478.9 L257.5 480.1 L256.0 480.3 L254.7 481.4 L253.0 481.2 L251.6 480.5 L250.0 480.5 L248.7 479.6 L247.2 479.9 L246.1 481.3 L244.4 481.2 L242.9 481.4 L241.5 480.5 L240.0 481.2 L238.5 481.6 L236.9 481.7 L235.6 482.7 L233.4 482.8 L231.3 483.4 L230.0 484.9 L229.0 486.6 L228.2 488.0 L226.8 488.7 L225.8 489.9 L223.9 490.1 L222.3 488.7 L220.4 488.8 L218.7 488.9 L217.3 489.7 L216.0 490.9 L214.7 492.5 L212.7 493.2 L212.2 494.7 L211.5 496.1 L210.5 497.5 L209.2 499.2 L207.3 500.2 L205.5 499.5 L203.7 498.7 L201.8 498.6 L200.5 497.7 L200.0 496.1 L198.5 495.4 L199.2 493.8 L198.5 492.0 L199.7 490.5 L199.6 488.8 L199.4 486.9 L197.9 485.7 L197.6 483.9 L197.0 482.5 L196.4 481.1 L195.5 479.9 L194.4 478.6 L192.7 478.1 L191.8 476.6 L190.0 476.7 L188.2 477.3 L186.4 476.5 L184.7 475.8 L182.7 475.7 L181.7 474.0 L180.0 472.9 L178.1 472.7 L176.4 472.1 L174.3 471.2 L172.3 470.5 L170.0 470.5 L168.1 470.3 L166.5 471.7 L164.7 472.3 L162.7 472.1 L160.8 472.5 L159.2 473.6 L157.3 473.9 L155.8 473.2 L154.5 472.1 L152.7 472.1 L152.0 470.3 L151.2 468.5 L151.0 466.6 L149.1 465.8 L147.3 464.9 L145.9 465.9 L145.2 467.6 L143.6 468.4 L141.5 469.2 L139.5 470.1 L137.3 470.3 L136.5 468.9 L135.8 467.5 L134.5 466.6 L132.8 467.2 L131.0 467.5 L130.5 469.1 L129.5 470.6 L129.3 472.4 L128.2 473.9 L127.3 472.5 L126.8 470.9 L126.4 469.4 L124.6 469.7 L122.9 470.5 L121.0 470.3 L119.7 471.9 L119.0 473.9 L117.8 473.1 L116.5 472.5 L115.2 472.4 L114.0 471.9 L112.2 473.2 L110.0 473.5 L108.7 472.2 L107.0 471.5 L105.5 470.8 L104.4 469.7 L103.6 468.3 L102.7 466.9 L102.2 465.5 L102.4 463.9 L101.6 462.4 L99.9 462.1 L99.0 460.9 L97.2 460.4 L95.6 459.5 L94.0 460.3 L93.0 461.9 L91.0 462.2 L89.0 462.9 L87.6 461.4 L86.9 459.6 L86.0 457.9 L84.9 456.0 L83.0 454.9 L81.5 453.7 L80.5 452.0 L79.0 450.9 L77.3 450.2 L76.5 448.4 L75.0 447.5 L73.6 445.9 L71.9 444.7 L70.0 443.9 L68.5 442.3 L66.6 441.3 L65.0 439.9 L63.5 438.9 L63.0 437.2 L62.0 435.9 L61.5 434.0 L60.0 432.7 L59.6 430.9Z" fill="none" stroke="#000" stroke-width="1.15" stroke-linejoin="round"/>
<path d="M127.8 440.9 L128.7 442.8 L128.5 444.9 L128.7 446.7 L128.7 448.5 L129.0 450.4 L130.5 451.5 L131.4 453.1 L132.0 454.9 L133.0 456.2 L135.0 456.1 L136.0 457.5 L138.0 457.1 L140.0 458.4 L142.0 457.9 L144.0 457.9 L146.0 457.4 L148.0 457.5 L149.0 458.2 L150.0 458.9 L151.9 459.7 L154.1 459.9 L156.0 460.9 L158.1 460.7 L159.9 461.9 L162.0 461.9 L164.0 461.8 L166.0 461.4 L168.1 461.6 L170.0 460.9 L171.5 461.7 L172.7 463.0 L174.7 462.7 L176.0 463.9 L177.3 465.2 L178.7 466.5 L180.0 467.9 L180.9 469.1 L181.2 470.6 L182.0 471.9 L182.7 473.7 L182.7 475.7" fill="none" stroke="#000" stroke-width="1.0" stroke-linejoin="round"/>
<path d="M226.4 435.1 L228.6 435.3 L230.4 436.9 L232.7 436.9 L234.5 437.6 L236.1 438.7 L237.5 440.1 L239.0 441.4 L239.9 442.8 L239.8 444.6 L241.0 446.0 L241.0 447.8 L241.8 449.3 L243.0 450.5 L244.5 451.4 L246.3 451.4 L247.5 452.7 L249.0 453.3 L250.7 452.4 L252.6 452.3 L254.5 452.4 L256.7 452.2 L258.8 452.3 L261.0 452.4 L261.4 450.7 L262.4 449.3 L261.9 447.4 L262.7 445.9 L263.8 444.4 L265.6 443.8 L267.2 443.0 L268.2 441.4 L270.2 440.4 L271.7 439.0 L272.5 436.8 L274.5 435.9 L276.1 434.4 L276.9 432.4 L278.3 430.7 L279.0 428.7 L279.5 426.7 L280.0 424.7 L281.0 422.9 L281.2 420.8 L280.8 418.8 L280.3 416.9 L280.9 415.1 L280.4 413.1 L281.0 411.4 L280.5 409.9 L281.4 408.4 L281.0 406.9" fill="none" stroke="#000" stroke-width="1.0" stroke-linejoin="round"/>
<path d="M291.0 412.1 L289.3 412.8 L288.0 413.9 L287.0 415.4 L285.7 416.2 L285.3 417.9 L284.0 418.9 L283.8 420.8 L282.6 422.4 L282.2 423.7 L283.0 424.9 L284.1 426.2 L285.5 427.4 L287.6 427.9 L289.0 429.6 L290.7 428.6 L291.5 426.9 L293.0 428.2 L295.0 428.4 L296.8 429.3 L298.1 431.1 L300.0 431.9 L301.2 430.6 L303.0 430.4 L304.6 431.5 L306.0 432.9 L305.9 434.9 L306.8 436.8 L307.0 438.9 L308.3 440.2 L310.0 441.1 L311.0 442.9 L312.0 444.8 L313.7 446.2 L315.0 447.9 L316.0 449.7 L316.0 452.0 L317.0 453.9 L316.1 455.8 L316.5 457.9 L315.3 459.1 L314.0 460.1 L312.6 461.1 L312.0 462.9 L311.1 464.7 L309.2 465.4 L308.0 466.9 L306.3 467.6 L305.9 469.7 L304.5 470.9 L303.0 471.9 L301.7 473.2 L300.3 474.5 L299.3 476.1" fill="none" stroke="#000" stroke-width="1.0" stroke-linejoin="round"/>
<rect x="38.70" y="386.26" width="326.80" height="122.50" fill="none" stroke="#222" stroke-width="0.8"/>
<path d="M38.70 508.76v3.20M38.70 386.26v-3.20M59.12 508.76v1.40M59.12 386.26v-1.40M79.55 508.76v1.40M79.55 386.26v-1.40M99.98 508.76v3.20M99.98 386.26v-3.20M120.40 508.76v1.40M120.40 386.26v-1.40M140.82 508.76v1.40M140.82 386.26v-1.40M161.25 508.76v3.20M161.25 386.26v-3.20M181.68 508.76v1.40M181.68 386.26v-1.40M202.10 508.76v1.40M202.10 386.26v-1.40M222.53 508.76v3.20M222.53 386.26v-3.20M242.95 508.76v1.40M242.95 386.26v-1.40M263.38 508.76v1.40M263.38 386.26v-1.40M283.80 508.76v3.20M283.80 386.26v-3.20M304.23 508.76v1.40M304.23 386.26v-1.40M324.65 508.76v1.40M324.65 386.26v-1.40M345.07 508.76v3.20M345.07 386.26v-3.20M365.50 508.76v1.40M365.50 386.26v-1.40M38.70 386.26h-3.60M365.50 386.26h3.60M38.70 399.87h-1.40M365.50 399.87h1.40M38.70 413.48h-1.40M365.50 413.48h1.40M38.70 427.09h-1.40M365.50 427.09h1.40M38.70 440.70h-3.60M365.50 440.70h3.60M38.70 454.32h-1.40M365.50 454.32h1.40M38.70 467.93h-1.40M365.50 467.93h1.40M38.70 481.54h-1.40M365.50 481.54h1.40M38.70 495.15h-3.60M365.50 495.15h3.60M38.70 508.76h-1.40M365.50 508.76h1.40" stroke="#222" stroke-width="0.7" fill="none"/>
<text transform="translate(38.7 523.4) scale(1.12 1)" text-anchor="middle" class="ax">81˚E</text>
<text transform="translate(100.0 523.4) scale(1.12 1)" text-anchor="middle" class="ax">84˚E</text>
<text transform="translate(161.2 523.4) scale(1.12 1)" text-anchor="middle" class="ax">87˚E</text>
<text transform="translate(222.5 523.4) scale(1.12 1)" text-anchor="middle" class="ax">90˚E</text>
<text transform="translate(283.8 523.4) scale(1.12 1)" text-anchor="middle" class="ax">93˚E</text>
<text transform="translate(345.1 523.4) scale(1.12 1)" text-anchor="middle" class="ax">96˚E</text>
<text transform="translate(32.3 390.7) scale(1.12 1)" text-anchor="end" class="ax">32˚N</text>
<text transform="translate(32.3 445.1) scale(1.12 1)" text-anchor="end" class="ax">30˚N</text>
<text transform="translate(32.3 499.5) scale(1.12 1)" text-anchor="end" class="ax">28˚N</text>
<text transform="translate(44.3 400.0) scale(1.085 1)" class="vn">PET</text>
<text transform="translate(24 367.3) scale(1.12 1)" text-anchor="end" class="hd">e.</text>
<text transform="translate(434 370.4) scale(1.12 1)" text-anchor="end" class="hd">f.</text>
<path d="M481.00 447.46L481.00 385.86A61.60 61.60 0 0 1 537.98 470.85Z" fill="#5B8FF9" stroke="#3a3a3a" stroke-width="0.35" stroke-linejoin="round"/>
<path d="M481.00 447.46L537.98 470.85A61.60 61.60 0 0 1 537.38 472.28Z" fill="#F6BD16" stroke="#3a3a3a" stroke-width="0.35" stroke-linejoin="round"/>
<path d="M481.00 447.46L537.38 472.28A61.60 61.60 0 0 1 493.68 507.74Z" fill="#E8684A" stroke="#3a3a3a" stroke-width="0.35" stroke-linejoin="round"/>
<path d="M481.00 447.46L493.68 507.74A61.60 61.60 0 0 1 492.16 508.04Z" fill="#9270CA" stroke="#3a3a3a" stroke-width="0.35" stroke-linejoin="round"/>
<path d="M481.00 447.46L492.16 508.04A61.60 61.60 0 0 1 434.28 487.61Z" fill="#FF9D4D" stroke="#3a3a3a" stroke-width="0.35" stroke-linejoin="round"/>
<path d="M481.00 447.46L434.28 487.61A61.60 61.60 0 0 1 425.60 474.39Z" fill="#269A99" stroke="#3a3a3a" stroke-width="0.35" stroke-linejoin="round"/>
<path d="M481.00 447.46L425.60 474.39A61.60 61.60 0 0 1 481.00 385.86Z" fill="#FF99C3" stroke="#3a3a3a" stroke-width="0.35" stroke-linejoin="round"/>
<text x="510.5" y="434.1" text-anchor="middle" class="pl">31.2%</text>
<text x="454.0" y="434.1" text-anchor="middle" class="pl">32.2%</text>
<text x="510.5" y="484.6" text-anchor="middle" class="pl">15.1%</text>
<text x="465.5" y="490.6" text-anchor="middle" class="pl">16.6%</text>
<g shape-rendering="crispEdges">
<path fill="#5B8FF9" d="M302.2 590.4h2.2v2.9h-2.2zM304.2 601.3h2.2v2.9h-2.2zM316.5 636.7h2.2v2.9h-2.2zM328.7 639.4h2.2v2.9h-2.2zM310.4 642.1h6.3v2.9h-6.3zM318.5 642.1h2.2v2.9h-2.2zM328.7 642.1h2.2v2.9h-2.2zM304.2 644.9h8.3v2.9h-8.3zM314.4 644.9h2.2v2.9h-2.2zM302.2 647.6h14.4v2.9h-14.4zM324.6 647.6h2.2v2.9h-2.2zM328.7 647.6h4.2v2.9h-4.2zM300.1 650.3h6.3v2.9h-6.3zM308.3 650.3h10.4v2.9h-10.4zM324.6 650.3h4.2v2.9h-4.2zM300.1 653.0h4.2v2.9h-4.2zM308.3 653.0h20.6v2.9h-20.6zM330.8 653.0h2.2v2.9h-2.2zM304.2 655.7h2.2v2.9h-2.2zM308.3 655.7h20.6v2.9h-20.6zM330.8 655.7h2.2v2.9h-2.2zM308.3 658.5h8.3v2.9h-8.3zM322.6 658.5h10.4v2.9h-10.4zM310.4 661.2h6.3v2.9h-6.3zM318.5 661.2h14.4v2.9h-14.4zM310.4 663.9h8.3v2.9h-8.3zM322.6 663.9h8.3v2.9h-8.3zM312.4 666.6h2.2v2.9h-2.2zM316.5 666.6h10.4v2.9h-10.4zM328.7 666.6h2.2v2.9h-2.2zM318.5 669.4h6.3v2.9h-6.3zM326.7 669.4h2.2v2.9h-2.2z"/>
<path fill="#5AD8A6" d="M334.9 628.5h2.2v2.9h-2.2zM338.9 628.5h2.2v2.9h-2.2zM334.9 631.2h2.2v2.9h-2.2zM338.9 631.2h2.2v2.9h-2.2zM320.6 636.7h4.2v2.9h-4.2zM316.5 639.4h12.4v2.9h-12.4zM320.6 642.1h8.3v2.9h-8.3zM316.5 644.9h2.2v2.9h-2.2zM322.6 644.9h8.3v2.9h-8.3zM316.5 647.6h2.2v2.9h-2.2zM322.6 647.6h2.2v2.9h-2.2zM320.6 650.3h4.2v2.9h-4.2zM324.6 669.4h2.2v2.9h-2.2z"/>
<path fill="#F6BD16" d="M281.8 582.2h4.2v2.9h-4.2zM281.8 585.0h8.3v2.9h-8.3zM283.8 587.7h10.4v2.9h-10.4zM283.8 590.4h6.3v2.9h-6.3zM292.0 590.4h10.4v2.9h-10.4zM255.2 593.1h6.3v2.9h-6.3zM281.8 593.1h6.3v2.9h-6.3zM294.0 593.1h20.6v2.9h-20.6zM279.7 595.9h8.3v2.9h-8.3zM289.9 595.9h26.7v2.9h-26.7zM277.7 598.6h24.7v2.9h-24.7zM306.3 598.6h14.4v2.9h-14.4zM324.6 598.6h12.4v2.9h-12.4zM77.5 601.3h4.2v2.9h-4.2zM102.0 601.3h2.2v2.9h-2.2zM275.6 601.3h20.6v2.9h-20.6zM298.1 601.3h6.3v2.9h-6.3zM306.3 601.3h34.9v2.9h-34.9zM257.2 604.0h6.3v2.9h-6.3zM275.6 604.0h22.6v2.9h-22.6zM300.1 604.0h43.0v2.9h-43.0zM255.2 606.7h12.4v2.9h-12.4zM273.6 606.7h47.1v2.9h-47.1zM322.6 606.7h4.2v2.9h-4.2zM330.8 606.7h16.5v2.9h-16.5zM59.1 609.5h4.2v2.9h-4.2zM249.1 609.5h2.2v2.9h-2.2zM255.2 609.5h10.4v2.9h-10.4zM273.6 609.5h47.1v2.9h-47.1zM332.8 609.5h14.4v2.9h-14.4zM61.2 612.2h14.4v2.9h-14.4zM77.5 612.2h2.2v2.9h-2.2zM87.7 612.2h10.4v2.9h-10.4zM259.3 612.2h2.2v2.9h-2.2zM263.4 612.2h2.2v2.9h-2.2zM271.5 612.2h45.1v2.9h-45.1zM322.6 612.2h4.2v2.9h-4.2zM330.8 612.2h14.4v2.9h-14.4zM63.2 614.9h39.0v2.9h-39.0zM238.9 614.9h4.2v2.9h-4.2zM271.5 614.9h20.6v2.9h-20.6zM294.0 614.9h22.6v2.9h-22.6zM328.7 614.9h4.2v2.9h-4.2zM334.9 614.9h8.3v2.9h-8.3zM345.1 614.9h8.3v2.9h-8.3zM65.3 617.6h36.9v2.9h-36.9zM230.7 617.6h2.2v2.9h-2.2zM238.9 617.6h4.2v2.9h-4.2zM269.5 617.6h22.6v2.9h-22.6zM294.0 617.6h2.2v2.9h-2.2zM298.1 617.6h20.6v2.9h-20.6zM324.6 617.6h4.2v2.9h-4.2zM336.9 617.6h8.3v2.9h-8.3zM351.2 617.6h4.2v2.9h-4.2zM69.3 620.4h36.9v2.9h-36.9zM181.7 620.4h2.2v2.9h-2.2zM238.9 620.4h4.2v2.9h-4.2zM267.5 620.4h20.6v2.9h-20.6zM292.0 620.4h4.2v2.9h-4.2zM298.1 620.4h18.5v2.9h-18.5zM334.9 620.4h12.4v2.9h-12.4zM353.2 620.4h2.2v2.9h-2.2zM71.4 623.1h32.8v2.9h-32.8zM177.6 623.1h4.2v2.9h-4.2zM183.7 623.1h6.3v2.9h-6.3zM265.4 623.1h55.3v2.9h-55.3zM336.9 623.1h10.4v2.9h-10.4zM351.2 623.1h6.3v2.9h-6.3zM75.5 625.8h36.9v2.9h-36.9zM124.5 625.8h2.2v2.9h-2.2zM187.8 625.8h4.2v2.9h-4.2zM224.6 625.8h2.2v2.9h-2.2zM265.4 625.8h47.1v2.9h-47.1zM314.4 625.8h6.3v2.9h-6.3zM326.7 625.8h2.2v2.9h-2.2zM334.9 625.8h12.4v2.9h-12.4zM349.2 625.8h8.3v2.9h-8.3zM79.6 628.5h12.4v2.9h-12.4zM93.8 628.5h69.6v2.9h-69.6zM179.6 628.5h6.3v2.9h-6.3zM187.8 628.5h6.3v2.9h-6.3zM263.4 628.5h53.3v2.9h-53.3zM318.5 628.5h8.3v2.9h-8.3zM328.7 628.5h2.2v2.9h-2.2zM332.8 628.5h2.2v2.9h-2.2zM336.9 628.5h2.2v2.9h-2.2zM341.0 628.5h16.5v2.9h-16.5zM81.6 631.2h10.4v2.9h-10.4zM95.9 631.2h79.8v2.9h-79.8zM185.8 631.2h2.2v2.9h-2.2zM189.8 631.2h2.2v2.9h-2.2zM263.4 631.2h65.5v2.9h-65.5zM330.8 631.2h2.2v2.9h-2.2zM336.9 631.2h2.2v2.9h-2.2zM341.0 631.2h16.5v2.9h-16.5zM83.6 634.0h100.2v2.9h-100.2zM187.8 634.0h4.2v2.9h-4.2zM261.3 634.0h67.6v2.9h-67.6zM336.9 634.0h10.4v2.9h-10.4zM85.7 636.7h102.3v2.9h-102.3zM216.4 636.7h20.6v2.9h-20.6zM263.4 636.7h51.2v2.9h-51.2zM318.5 636.7h2.2v2.9h-2.2zM324.6 636.7h20.6v2.9h-20.6zM87.7 639.4h4.2v2.9h-4.2zM100.0 639.4h92.1v2.9h-92.1zM214.4 639.4h22.6v2.9h-22.6zM261.3 639.4h51.2v2.9h-51.2zM314.4 639.4h2.2v2.9h-2.2zM330.8 639.4h8.3v2.9h-8.3zM102.0 642.1h92.1v2.9h-92.1zM214.4 642.1h32.8v2.9h-32.8zM261.3 642.1h49.2v2.9h-49.2zM330.8 642.1h2.2v2.9h-2.2zM102.0 644.9h30.8v2.9h-30.8zM134.7 644.9h10.4v2.9h-10.4zM151.0 644.9h47.1v2.9h-47.1zM212.3 644.9h12.4v2.9h-12.4zM226.6 644.9h28.7v2.9h-28.7zM259.3 644.9h45.1v2.9h-45.1zM106.1 647.6h16.5v2.9h-16.5zM126.5 647.6h4.2v2.9h-4.2zM151.0 647.6h28.7v2.9h-28.7zM181.7 647.6h18.5v2.9h-18.5zM210.3 647.6h92.1v2.9h-92.1zM326.7 647.6h2.2v2.9h-2.2zM108.1 650.3h4.2v2.9h-4.2zM116.3 650.3h4.2v2.9h-4.2zM155.1 650.3h4.2v2.9h-4.2zM179.6 650.3h22.6v2.9h-22.6zM206.2 650.3h65.5v2.9h-65.5zM277.7 650.3h22.6v2.9h-22.6zM183.7 653.0h79.8v2.9h-79.8zM265.4 653.0h4.2v2.9h-4.2zM294.0 653.0h6.3v2.9h-6.3zM304.2 653.0h2.2v2.9h-2.2zM193.9 655.7h65.5v2.9h-65.5zM300.1 655.7h4.2v2.9h-4.2zM306.3 655.7h2.2v2.9h-2.2zM196.0 658.5h45.1v2.9h-45.1zM304.2 658.5h4.2v2.9h-4.2zM316.5 658.5h6.3v2.9h-6.3zM196.0 661.2h34.9v2.9h-34.9zM308.3 661.2h2.2v2.9h-2.2zM316.5 661.2h2.2v2.9h-2.2zM198.0 663.9h30.8v2.9h-30.8zM330.8 663.9h2.2v2.9h-2.2zM198.0 666.6h20.6v2.9h-20.6zM314.4 666.6h2.2v2.9h-2.2zM326.7 666.6h2.2v2.9h-2.2zM330.8 666.6h2.2v2.9h-2.2zM198.0 669.4h16.5v2.9h-16.5zM316.5 669.4h2.2v2.9h-2.2zM328.7 669.4h2.2v2.9h-2.2zM198.0 672.1h14.4v2.9h-14.4zM200.1 674.8h10.4v2.9h-10.4z"/>
<path fill="#E8684A" d="M314.4 636.7h2.2v2.9h-2.2zM312.4 639.4h2.2v2.9h-2.2zM312.4 644.9h2.2v2.9h-2.2zM306.3 650.3h2.2v2.9h-2.2zM306.3 653.0h2.2v2.9h-2.2zM318.5 663.9h4.2v2.9h-4.2z"/>
<path fill="#9270CA" d="M279.7 582.2h2.2v2.9h-2.2zM275.6 585.0h6.3v2.9h-6.3zM87.7 587.7h6.3v2.9h-6.3zM271.5 587.7h12.4v2.9h-12.4zM71.4 590.4h6.3v2.9h-6.3zM85.7 590.4h6.3v2.9h-6.3zM95.9 590.4h4.2v2.9h-4.2zM253.2 590.4h6.3v2.9h-6.3zM265.4 590.4h18.5v2.9h-18.5zM289.9 590.4h2.2v2.9h-2.2zM65.3 593.1h24.7v2.9h-24.7zM97.9 593.1h2.2v2.9h-2.2zM249.1 593.1h6.3v2.9h-6.3zM261.3 593.1h20.6v2.9h-20.6zM287.9 593.1h6.3v2.9h-6.3zM65.3 595.9h26.7v2.9h-26.7zM93.8 595.9h2.2v2.9h-2.2zM97.9 595.9h2.2v2.9h-2.2zM245.0 595.9h34.9v2.9h-34.9zM287.9 595.9h2.2v2.9h-2.2zM63.2 598.6h39.0v2.9h-39.0zM238.9 598.6h39.0v2.9h-39.0zM302.2 598.6h4.2v2.9h-4.2zM59.1 601.3h18.5v2.9h-18.5zM81.6 601.3h20.6v2.9h-20.6zM234.8 601.3h41.0v2.9h-41.0zM296.1 601.3h2.2v2.9h-2.2zM59.1 604.0h4.2v2.9h-4.2zM65.3 604.0h39.0v2.9h-39.0zM179.6 604.0h8.3v2.9h-8.3zM230.7 604.0h26.7v2.9h-26.7zM263.4 604.0h12.4v2.9h-12.4zM298.1 604.0h2.2v2.9h-2.2zM59.1 606.7h45.1v2.9h-45.1zM165.3 606.7h24.7v2.9h-24.7zM228.7 606.7h26.7v2.9h-26.7zM267.5 606.7h6.3v2.9h-6.3zM320.6 606.7h2.2v2.9h-2.2zM326.7 606.7h4.2v2.9h-4.2zM63.2 609.5h12.4v2.9h-12.4zM77.5 609.5h26.7v2.9h-26.7zM163.3 609.5h28.7v2.9h-28.7zM196.0 609.5h20.6v2.9h-20.6zM224.6 609.5h24.7v2.9h-24.7zM251.1 609.5h4.2v2.9h-4.2zM265.4 609.5h8.3v2.9h-8.3zM320.6 609.5h12.4v2.9h-12.4zM347.1 609.5h2.2v2.9h-2.2zM75.5 612.2h2.2v2.9h-2.2zM79.6 612.2h8.3v2.9h-8.3zM97.9 612.2h8.3v2.9h-8.3zM163.3 612.2h57.3v2.9h-57.3zM224.6 612.2h34.9v2.9h-34.9zM261.3 612.2h2.2v2.9h-2.2zM265.4 612.2h6.3v2.9h-6.3zM316.5 612.2h6.3v2.9h-6.3zM326.7 612.2h4.2v2.9h-4.2zM345.1 612.2h6.3v2.9h-6.3zM102.0 614.9h8.3v2.9h-8.3zM118.4 614.9h8.3v2.9h-8.3zM161.2 614.9h45.1v2.9h-45.1zM208.2 614.9h30.8v2.9h-30.8zM242.9 614.9h28.7v2.9h-28.7zM292.0 614.9h2.2v2.9h-2.2zM316.5 614.9h10.4v2.9h-10.4zM332.8 614.9h2.2v2.9h-2.2zM343.0 614.9h2.2v2.9h-2.2zM102.0 617.6h10.4v2.9h-10.4zM114.3 617.6h12.4v2.9h-12.4zM144.9 617.6h2.2v2.9h-2.2zM161.2 617.6h69.6v2.9h-69.6zM232.7 617.6h6.3v2.9h-6.3zM242.9 617.6h26.7v2.9h-26.7zM292.0 617.6h2.2v2.9h-2.2zM296.1 617.6h2.2v2.9h-2.2zM318.5 617.6h6.3v2.9h-6.3zM328.7 617.6h2.2v2.9h-2.2zM332.8 617.6h4.2v2.9h-4.2zM345.1 617.6h6.3v2.9h-6.3zM106.1 620.4h22.6v2.9h-22.6zM130.6 620.4h2.2v2.9h-2.2zM136.7 620.4h16.5v2.9h-16.5zM159.2 620.4h8.3v2.9h-8.3zM169.4 620.4h12.4v2.9h-12.4zM183.7 620.4h55.3v2.9h-55.3zM242.9 620.4h24.7v2.9h-24.7zM287.9 620.4h4.2v2.9h-4.2zM296.1 620.4h2.2v2.9h-2.2zM316.5 620.4h8.3v2.9h-8.3zM332.8 620.4h2.2v2.9h-2.2zM347.1 620.4h6.3v2.9h-6.3zM104.1 623.1h47.1v2.9h-47.1zM157.2 623.1h8.3v2.9h-8.3zM169.4 623.1h8.3v2.9h-8.3zM181.7 623.1h2.2v2.9h-2.2zM189.8 623.1h75.7v2.9h-75.7zM320.6 623.1h4.2v2.9h-4.2zM328.7 623.1h8.3v2.9h-8.3zM347.1 623.1h4.2v2.9h-4.2zM112.2 625.8h12.4v2.9h-12.4zM126.5 625.8h24.7v2.9h-24.7zM157.2 625.8h8.3v2.9h-8.3zM169.4 625.8h18.5v2.9h-18.5zM191.9 625.8h32.8v2.9h-32.8zM226.6 625.8h39.0v2.9h-39.0zM312.4 625.8h2.2v2.9h-2.2zM320.6 625.8h4.2v2.9h-4.2zM328.7 625.8h2.2v2.9h-2.2zM332.8 625.8h2.2v2.9h-2.2zM347.1 625.8h2.2v2.9h-2.2zM91.8 628.5h2.2v2.9h-2.2zM163.3 628.5h16.5v2.9h-16.5zM185.8 628.5h2.2v2.9h-2.2zM193.9 628.5h69.6v2.9h-69.6zM316.5 628.5h2.2v2.9h-2.2zM326.7 628.5h2.2v2.9h-2.2zM330.8 628.5h2.2v2.9h-2.2zM91.8 631.2h4.2v2.9h-4.2zM175.5 631.2h10.4v2.9h-10.4zM187.8 631.2h2.2v2.9h-2.2zM191.9 631.2h71.6v2.9h-71.6zM183.7 634.0h4.2v2.9h-4.2zM191.9 634.0h63.5v2.9h-63.5zM257.2 634.0h4.2v2.9h-4.2zM187.8 636.7h6.3v2.9h-6.3zM208.2 636.7h8.3v2.9h-8.3zM242.9 636.7h4.2v2.9h-4.2zM261.3 636.7h2.2v2.9h-2.2zM191.9 639.4h22.6v2.9h-22.6zM245.0 639.4h2.2v2.9h-2.2zM193.9 642.1h20.6v2.9h-20.6zM247.0 642.1h14.4v2.9h-14.4zM198.0 644.9h14.4v2.9h-14.4zM255.2 644.9h4.2v2.9h-4.2zM179.6 647.6h2.2v2.9h-2.2zM200.1 647.6h10.4v2.9h-10.4zM202.1 650.3h4.2v2.9h-4.2z"/>
<path fill="#269A99" d="M91.8 590.4h4.2v2.9h-4.2zM89.8 593.1h8.3v2.9h-8.3zM91.8 595.9h2.2v2.9h-2.2zM95.9 595.9h2.2v2.9h-2.2zM63.2 604.0h2.2v2.9h-2.2zM75.5 609.5h2.2v2.9h-2.2zM118.4 612.2h8.3v2.9h-8.3zM114.3 614.9h4.2v2.9h-4.2zM126.5 614.9h2.2v2.9h-2.2zM206.2 614.9h2.2v2.9h-2.2zM326.7 614.9h2.2v2.9h-2.2zM112.2 617.6h2.2v2.9h-2.2zM126.5 617.6h2.2v2.9h-2.2zM147.0 617.6h6.3v2.9h-6.3zM159.2 617.6h2.2v2.9h-2.2zM330.8 617.6h2.2v2.9h-2.2zM128.6 620.4h2.2v2.9h-2.2zM153.1 620.4h2.2v2.9h-2.2zM157.2 620.4h2.2v2.9h-2.2zM324.6 620.4h8.3v2.9h-8.3zM151.0 623.1h6.3v2.9h-6.3zM324.6 623.1h4.2v2.9h-4.2zM151.0 625.8h6.3v2.9h-6.3zM324.6 625.8h2.2v2.9h-2.2zM330.8 625.8h2.2v2.9h-2.2zM255.2 634.0h2.2v2.9h-2.2zM193.9 636.7h14.4v2.9h-14.4zM236.8 636.7h6.3v2.9h-6.3zM247.0 636.7h4.2v2.9h-4.2zM253.2 636.7h8.3v2.9h-8.3zM236.8 639.4h8.3v2.9h-8.3zM247.0 639.4h14.4v2.9h-14.4zM316.5 642.1h2.2v2.9h-2.2zM224.6 644.9h2.2v2.9h-2.2zM318.5 644.9h4.2v2.9h-4.2zM318.5 647.6h4.2v2.9h-4.2zM318.5 650.3h2.2v2.9h-2.2zM328.7 650.3h4.2v2.9h-4.2zM328.7 653.0h2.2v2.9h-2.2zM328.7 655.7h2.2v2.9h-2.2z"/>
<path fill="#FF99C3" d="M167.4 620.4h2.2v2.9h-2.2zM165.3 623.1h4.2v2.9h-4.2zM165.3 625.8h4.2v2.9h-4.2zM328.7 631.2h2.2v2.9h-2.2zM332.8 631.2h2.2v2.9h-2.2zM328.7 634.0h8.3v2.9h-8.3zM251.1 636.7h2.2v2.9h-2.2z"/>
</g>
<path d="M59.0 605.8 L60.6 604.4 L62.0 602.8 L64.0 602.3 L65.5 601.1 L67.0 599.8 L66.6 597.8 L66.7 595.8 L67.0 593.8 L68.7 594.1 L70.3 592.7 L72.0 593.2 L73.3 592.9 L74.0 591.8 L75.2 593.4 L77.0 594.4 L78.7 594.8 L80.4 595.1 L82.0 595.8 L83.6 596.0 L85.0 596.8 L85.7 595.1 L86.9 593.7 L88.0 592.3 L89.0 590.8 L90.0 590.0 L91.0 589.2 L91.5 590.9 L93.0 591.8 L94.9 591.5 L96.4 590.4 L97.1 591.7 L98.0 592.8 L97.5 594.9 L98.8 596.8 L98.6 598.8 L100.2 600.0 L101.0 601.8 L101.9 603.2 L103.5 604.1 L104.0 605.8 L104.1 607.5 L103.0 608.8 L103.3 610.5 L103.7 612.1 L104.0 613.8 L105.1 615.7 L107.0 616.8 L108.4 617.9 L110.0 618.8 L112.0 618.3 L114.0 617.8 L116.0 617.1 L118.0 616.4 L119.3 615.1 L121.0 614.4 L123.1 613.9 L125.0 614.8 L126.5 615.5 L127.5 616.8 L127.7 618.5 L128.8 620.0 L128.8 621.8 L130.0 622.4 L131.0 623.3 L133.1 622.7 L135.0 623.6 L136.7 623.8 L138.3 622.6 L140.0 622.8 L141.9 621.7 L144.0 621.3 L145.8 620.7 L147.0 619.3 L148.5 618.8 L150.0 618.3 L150.9 619.7 L152.3 620.4 L153.6 621.3 L153.9 622.8 L155.4 623.7 L155.5 625.3 L156.9 624.6 L158.2 623.8 L159.4 622.0 L160.5 620.3 L162.2 618.8 L163.0 616.8 L163.3 615.1 L164.0 613.6 L163.8 611.8 L164.8 610.3 L166.5 609.4 L168.2 608.6 L170.0 608.1 L171.9 607.3 L174.1 607.9 L176.0 607.1 L177.7 606.8 L179.5 607.5 L181.3 606.8 L183.0 606.6 L184.8 606.6 L186.5 606.3 L187.5 607.8 L188.6 609.1 L190.0 610.3 L191.3 611.3 L191.9 612.8 L192.7 614.2 L194.3 613.1 L196.2 612.5 L198.0 611.8 L199.5 610.6 L201.6 611.1 L203.0 609.8 L204.7 609.7 L206.3 610.7 L208.0 610.8 L209.5 610.1 L211.3 610.5 L212.7 609.6 L214.1 610.9 L216.1 611.4 L217.3 612.9 L217.8 614.6 L218.6 616.2 L220.0 617.4 L221.9 617.5 L223.6 616.5 L224.6 615.0 L225.0 613.2 L226.4 612.0 L227.4 610.4 L229.5 609.8 L230.5 608.1 L231.8 606.7 L233.4 605.2 L235.7 604.9 L237.3 603.5 L239.0 602.2 L240.7 601.3 L242.2 600.2 L243.8 599.3 L245.5 598.5 L247.1 597.1 L248.8 595.7 L251.2 595.6 L252.7 594.1 L254.5 593.1 L256.4 592.3 L258.2 593.2 L260.1 593.7 L261.8 594.7 L263.5 594.6 L264.8 593.2 L266.6 593.2 L268.2 592.9 L269.4 591.5 L270.9 590.8 L272.7 590.4 L274.8 590.0 L276.5 588.6 L278.2 587.4 L279.1 586.1 L280.1 585.0 L281.0 583.8 L282.9 584.8 L285.0 584.8 L286.5 585.6 L287.6 586.9 L289.0 587.8 L290.2 589.0 L291.8 589.6 L293.0 590.8 L294.7 591.3 L296.4 592.1 L298.1 592.8 L300.0 592.8 L302.1 592.6 L303.9 593.9 L306.1 592.9 L308.0 593.8 L309.9 594.5 L311.9 594.9 L314.0 594.8 L315.1 596.3 L315.4 598.1 L316.0 599.8 L317.1 600.9 L319.0 600.5 L320.0 601.8 L321.7 602.0 L323.3 602.2 L325.0 601.8 L326.5 600.3 L328.0 598.8 L329.9 599.6 L332.0 599.8 L334.1 600.1 L336.1 600.7 L338.0 601.8 L339.5 603.0 L341.0 604.1 L342.0 605.8 L343.5 607.0 L344.2 608.9 L346.0 609.8 L347.3 611.2 L348.8 612.3 L350.0 613.8 L351.3 615.3 L351.5 617.4 L353.0 618.8 L353.7 620.4 L353.7 622.4 L355.0 623.8 L355.5 625.5 L356.0 627.1 L356.5 628.8 L356.1 630.5 L356.5 632.2 L357.0 633.8 L355.3 633.7 L353.7 633.9 L352.0 633.8 L351.2 631.8 L349.5 630.4 L348.3 632.2 L347.0 633.8 L345.1 634.9 L344.0 636.8 L342.6 638.0 L340.7 638.2 L339.0 638.8 L337.4 639.3 L335.8 639.9 L333.7 640.1 L332.0 641.5 L331.5 643.5 L330.4 645.3 L330.0 646.9 L330.4 648.6 L330.5 650.1 L330.8 651.6 L331.5 653.0 L331.7 654.5 L331.5 656.0 L332.5 657.3 L332.5 659.0 L332.0 660.6 L332.0 662.1 L332.1 663.6 L331.5 665.0 L331.8 667.0 L330.9 668.8 L329.4 670.0 L327.6 670.6 L325.6 670.3 L323.8 671.2 L322.3 671.0 L321.1 671.8 L319.6 671.9 L318.4 671.0 L317.4 669.8 L316.2 668.8 L314.8 668.0 L313.5 667.2 L312.8 665.7 L311.8 664.4 L310.9 662.9 L309.6 661.7 L307.8 660.8 L306.4 659.5 L305.8 657.9 L304.2 657.3 L302.5 656.5 L300.9 655.7 L300.3 654.2 L299.3 653.0 L298.0 653.2 L296.7 653.7 L295.0 653.6 L293.5 652.6 L291.6 653.0 L289.8 652.3 L288.0 652.0 L286.2 651.5 L284.4 651.2 L282.5 651.5 L281.1 650.8 L279.5 651.3 L278.2 650.4 L276.9 649.5 L275.4 649.2 L273.8 649.3 L272.3 648.3 L270.5 648.3 L270.1 649.7 L269.3 651.0 L269.5 652.6 L268.7 653.7 L267.3 653.7 L265.7 653.1 L264.6 652.0 L264.0 650.4 L263.1 651.7 L261.8 652.6 L260.6 654.3 L259.2 655.8 L257.5 657.0 L256.0 657.3 L254.7 658.4 L253.0 658.1 L251.6 657.4 L250.0 657.5 L248.7 656.5 L247.2 656.8 L246.1 658.2 L244.4 658.1 L242.9 658.4 L241.5 657.5 L240.0 658.1 L238.5 658.5 L236.9 658.7 L235.6 659.6 L233.4 659.7 L231.3 660.3 L230.0 661.8 L229.0 663.5 L228.2 664.9 L226.8 665.6 L225.8 666.8 L223.9 667.1 L222.3 665.6 L220.4 665.7 L218.7 665.8 L217.3 666.6 L216.0 667.8 L214.7 669.5 L212.7 670.1 L212.2 671.6 L211.5 673.1 L210.5 674.4 L209.2 676.2 L207.3 677.1 L205.5 676.4 L203.7 675.6 L201.8 675.5 L200.5 674.6 L200.0 673.0 L198.5 672.3 L199.2 670.7 L198.5 668.9 L199.7 667.4 L199.6 665.7 L199.4 663.9 L197.9 662.6 L197.6 660.8 L197.0 659.4 L196.4 658.0 L195.5 656.8 L194.4 655.6 L192.7 655.0 L191.8 653.5 L190.0 653.6 L188.2 654.2 L186.4 653.5 L184.7 652.7 L182.7 652.6 L181.7 650.9 L180.0 649.8 L178.1 649.6 L176.4 649.0 L174.3 648.2 L172.3 647.4 L170.0 647.4 L168.1 647.3 L166.5 648.7 L164.7 649.2 L162.7 649.0 L160.8 649.4 L159.2 650.6 L157.3 650.8 L155.8 650.1 L154.5 649.0 L152.7 649.0 L152.0 647.2 L151.2 645.4 L151.0 643.5 L149.1 642.7 L147.3 641.8 L145.9 642.8 L145.2 644.5 L143.6 645.3 L141.5 646.1 L139.5 647.0 L137.3 647.2 L136.5 645.8 L135.8 644.4 L134.5 643.5 L132.8 644.1 L131.0 644.4 L130.5 646.1 L129.5 647.6 L129.3 649.3 L128.2 650.8 L127.3 649.4 L126.8 647.9 L126.4 646.3 L124.6 646.6 L122.9 647.5 L121.0 647.2 L119.7 648.8 L119.0 650.8 L117.8 650.0 L116.5 649.4 L115.2 649.4 L114.0 648.8 L112.2 650.1 L110.0 650.4 L108.7 649.1 L107.0 648.4 L105.5 647.7 L104.4 646.6 L103.6 645.2 L102.7 643.9 L102.2 642.4 L102.4 640.8 L101.6 639.4 L99.9 639.0 L99.0 637.8 L97.2 637.3 L95.6 636.4 L94.0 637.2 L93.0 638.8 L91.0 639.1 L89.0 639.8 L87.6 638.3 L86.9 636.5 L86.0 634.8 L84.9 632.9 L83.0 631.8 L81.5 630.6 L80.5 628.9 L79.0 627.8 L77.3 627.1 L76.5 625.3 L75.0 624.4 L73.6 622.9 L71.9 621.6 L70.0 620.8 L68.5 619.3 L66.6 618.3 L65.0 616.8 L63.5 615.8 L63.0 614.1 L62.0 612.8 L61.5 611.0 L60.0 609.6 L59.6 607.8Z" fill="none" stroke="#000" stroke-width="1.15" stroke-linejoin="round"/>
<path d="M127.8 617.8 L128.7 619.7 L128.5 621.8 L128.7 623.6 L128.7 625.5 L129.0 627.3 L130.5 628.4 L131.4 630.0 L132.0 631.8 L133.0 633.2 L135.0 633.0 L136.0 634.4 L138.0 634.0 L140.0 635.3 L142.0 634.8 L144.0 634.8 L146.0 634.3 L148.0 634.4 L149.0 635.1 L150.0 635.8 L151.9 636.7 L154.1 636.8 L156.0 637.8 L158.1 637.6 L159.9 638.9 L162.0 638.8 L164.0 638.8 L166.0 638.3 L168.1 638.5 L170.0 637.8 L171.5 638.6 L172.7 639.9 L174.7 639.7 L176.0 640.8 L177.3 642.2 L178.7 643.4 L180.0 644.8 L180.9 646.0 L181.2 647.5 L182.0 648.8 L182.7 650.6 L182.7 652.6" fill="none" stroke="#000" stroke-width="1.0" stroke-linejoin="round"/>
<path d="M226.4 612.0 L228.6 612.3 L230.4 613.8 L232.7 613.8 L234.5 614.6 L236.1 615.7 L237.5 617.0 L239.0 618.3 L239.9 619.8 L239.8 621.6 L241.0 622.9 L241.0 624.7 L241.8 626.3 L243.0 627.4 L244.5 628.3 L246.3 628.3 L247.5 629.6 L249.0 630.2 L250.7 629.3 L252.6 629.3 L254.5 629.3 L256.7 629.2 L258.8 629.2 L261.0 629.3 L261.4 627.7 L262.4 626.2 L261.9 624.3 L262.7 622.8 L263.8 621.3 L265.6 620.7 L267.2 619.9 L268.2 618.3 L270.2 617.4 L271.7 615.9 L272.5 613.7 L274.5 612.8 L276.1 611.3 L276.9 609.3 L278.3 607.7 L279.0 605.6 L279.5 603.6 L280.0 601.6 L281.0 599.8 L281.2 597.7 L280.8 595.8 L280.3 593.8 L280.9 592.0 L280.4 590.1 L281.0 588.3 L280.5 586.8 L281.4 585.3 L281.0 583.8" fill="none" stroke="#000" stroke-width="1.0" stroke-linejoin="round"/>
<path d="M291.0 589.0 L289.3 589.7 L288.0 590.8 L287.0 592.3 L285.7 593.2 L285.3 594.8 L284.0 595.8 L283.8 597.8 L282.6 599.3 L282.2 600.6 L283.0 601.8 L284.1 603.2 L285.5 604.3 L287.6 604.8 L289.0 606.5 L290.7 605.5 L291.5 603.8 L293.0 605.2 L295.0 605.3 L296.8 606.2 L298.1 608.0 L300.0 608.8 L301.2 607.5 L303.0 607.3 L304.6 608.5 L306.0 609.8 L305.9 611.9 L306.8 613.8 L307.0 615.8 L308.3 617.1 L310.0 618.1 L311.0 619.8 L312.0 621.7 L313.7 623.1 L315.0 624.8 L316.0 626.7 L316.0 628.9 L317.0 630.8 L316.1 632.7 L316.5 634.8 L315.3 636.0 L314.0 637.1 L312.6 638.1 L312.0 639.8 L311.1 641.6 L309.2 642.4 L308.0 643.8 L306.3 644.6 L305.9 646.7 L304.5 647.8 L303.0 648.8 L301.7 650.1 L300.3 651.4 L299.3 653.0" fill="none" stroke="#000" stroke-width="1.0" stroke-linejoin="round"/>
<rect x="38.70" y="563.19" width="326.80" height="122.50" fill="none" stroke="#222" stroke-width="0.8"/>
<path d="M38.70 685.69v3.20M38.70 563.19v-3.20M59.12 685.69v1.40M59.12 563.19v-1.40M79.55 685.69v1.40M79.55 563.19v-1.40M99.98 685.69v3.20M99.98 563.19v-3.20M120.40 685.69v1.40M120.40 563.19v-1.40M140.82 685.69v1.40M140.82 563.19v-1.40M161.25 685.69v3.20M161.25 563.19v-3.20M181.68 685.69v1.40M181.68 563.19v-1.40M202.10 685.69v1.40M202.10 563.19v-1.40M222.53 685.69v3.20M222.53 563.19v-3.20M242.95 685.69v1.40M242.95 563.19v-1.40M263.38 685.69v1.40M263.38 563.19v-1.40M283.80 685.69v3.20M283.80 563.19v-3.20M304.23 685.69v1.40M304.23 563.19v-1.40M324.65 685.69v1.40M324.65 563.19v-1.40M345.07 685.69v3.20M345.07 563.19v-3.20M365.50 685.69v1.40M365.50 563.19v-1.40M38.70 563.19h-3.60M365.50 563.19h3.60M38.70 576.80h-1.40M365.50 576.80h1.40M38.70 590.41h-1.40M365.50 590.41h1.40M38.70 604.02h-1.40M365.50 604.02h1.40M38.70 617.63h-3.60M365.50 617.63h3.60M38.70 631.25h-1.40M365.50 631.25h1.40M38.70 644.86h-1.40M365.50 644.86h1.40M38.70 658.47h-1.40M365.50 658.47h1.40M38.70 672.08h-3.60M365.50 672.08h3.60M38.70 685.69h-1.40M365.50 685.69h1.40" stroke="#222" stroke-width="0.7" fill="none"/>
<text transform="translate(38.7 700.3) scale(1.12 1)" text-anchor="middle" class="ax">81˚E</text>
<text transform="translate(100.0 700.3) scale(1.12 1)" text-anchor="middle" class="ax">84˚E</text>
<text transform="translate(161.2 700.3) scale(1.12 1)" text-anchor="middle" class="ax">87˚E</text>
<text transform="translate(222.5 700.3) scale(1.12 1)" text-anchor="middle" class="ax">90˚E</text>
<text transform="translate(283.8 700.3) scale(1.12 1)" text-anchor="middle" class="ax">93˚E</text>
<text transform="translate(345.1 700.3) scale(1.12 1)" text-anchor="middle" class="ax">96˚E</text>
<text transform="translate(32.3 567.6) scale(1.12 1)" text-anchor="end" class="ax">32˚N</text>
<text transform="translate(32.3 622.0) scale(1.12 1)" text-anchor="end" class="ax">30˚N</text>
<text transform="translate(32.3 676.5) scale(1.12 1)" text-anchor="end" class="ax">28˚N</text>
<text transform="translate(44.3 576.9) scale(1.085 1)" class="vn">SRD</text>
<text transform="translate(24 544.2) scale(1.12 1)" text-anchor="end" class="hd">g.</text>
<text transform="translate(434 547.3) scale(1.12 1)" text-anchor="end" class="hd">h.</text>
<path d="M481.00 624.39L481.00 562.79A61.60 61.60 0 0 1 492.92 563.95Z" fill="#5B8FF9" stroke="#3a3a3a" stroke-width="0.35" stroke-linejoin="round"/>
<path d="M481.00 624.39L492.92 563.95A61.60 61.60 0 0 1 496.69 564.82Z" fill="#5AD8A6" stroke="#3a3a3a" stroke-width="0.35" stroke-linejoin="round"/>
<path d="M481.00 624.39L496.69 564.82A61.60 61.60 0 1 1 459.05 681.94Z" fill="#F6BD16" stroke="#3a3a3a" stroke-width="0.35" stroke-linejoin="round"/>
<path d="M481.00 624.39L459.05 681.94A61.60 61.60 0 0 1 457.25 681.23Z" fill="#E8684A" stroke="#3a3a3a" stroke-width="0.35" stroke-linejoin="round"/>
<path d="M481.00 624.39L457.25 681.23A61.60 61.60 0 0 1 458.68 566.97Z" fill="#9270CA" stroke="#3a3a3a" stroke-width="0.35" stroke-linejoin="round"/>
<path d="M481.00 624.39L458.68 566.97A61.60 61.60 0 0 1 476.75 562.94Z" fill="#269A99" stroke="#3a3a3a" stroke-width="0.35" stroke-linejoin="round"/>
<path d="M481.00 624.39L476.75 562.94A61.60 61.60 0 0 1 481.00 562.79Z" fill="#FF99C3" stroke="#3a3a3a" stroke-width="0.35" stroke-linejoin="round"/>
<text x="445.8" y="624.4" text-anchor="middle" class="pl">37.8%</text>
<text x="514.0" y="633.1" text-anchor="middle" class="pl">51.7%</text>
<rect x="38.20" y="723.40" width="50.52" height="11.10" fill="#5B8FF9"/>
<rect x="88.62" y="723.40" width="50.52" height="11.10" fill="#5AD8A6"/>
<rect x="139.04" y="723.40" width="50.52" height="11.10" fill="#5D7092"/>
<rect x="189.46" y="723.40" width="50.52" height="11.10" fill="#F6BD16"/>
<rect x="239.88" y="723.40" width="50.52" height="11.10" fill="#E8684A"/>
<rect x="290.30" y="723.40" width="50.52" height="11.10" fill="#6DC8EC"/>
<rect x="340.72" y="723.40" width="50.52" height="11.10" fill="#9270CA"/>
<rect x="391.14" y="723.40" width="50.52" height="11.10" fill="#FF9D4D"/>
<rect x="441.56" y="723.40" width="50.52" height="11.10" fill="#269A99"/>
<rect x="491.98" y="723.40" width="50.52" height="11.10" fill="#FF99C3"/>
<rect x="38.20" y="723.40" width="504.20" height="11.10" fill="none" stroke="#222" stroke-width="0.7"/>
<path d="M88.62 723.40v11.10" stroke="#222" stroke-width="0.5"/>
<path d="M139.04 723.40v11.10" stroke="#222" stroke-width="0.5"/>
<path d="M189.46 723.40v11.10" stroke="#222" stroke-width="0.5"/>
<path d="M239.88 723.40v11.10" stroke="#222" stroke-width="0.5"/>
<path d="M290.30 723.40v11.10" stroke="#222" stroke-width="0.5"/>
<path d="M340.72 723.40v11.10" stroke="#222" stroke-width="0.5"/>
<path d="M391.14 723.40v11.10" stroke="#222" stroke-width="0.5"/>
<path d="M441.56 723.40v11.10" stroke="#222" stroke-width="0.5"/>
<path d="M491.98 723.40v11.10" stroke="#222" stroke-width="0.5"/>
<text transform="translate(63.7 744.9) scale(1.125 1)" text-anchor="middle" class="lg">L0A0</text>
<text transform="translate(114.1 744.9) scale(1.125 1)" text-anchor="middle" class="lg">L1A0</text>
<text transform="translate(164.6 744.9) scale(1.125 1)" text-anchor="middle" class="lg">L2A0</text>
<text transform="translate(215.0 744.9) scale(1.125 1)" text-anchor="middle" class="lg">L3A0</text>
<text transform="translate(265.4 744.9) scale(1.125 1)" text-anchor="middle" class="lg">L0A1</text>
<text transform="translate(315.8 744.9) scale(1.125 1)" text-anchor="middle" class="lg">L1A1</text>
<text transform="translate(366.2 744.9) scale(1.125 1)" text-anchor="middle" class="lg">L2A1</text>
<text transform="translate(416.7 744.9) scale(1.125 1)" text-anchor="middle" class="lg">L0A2</text>
<text transform="translate(467.1 744.9) scale(1.125 1)" text-anchor="middle" class="lg">L1A2</text>
<text transform="translate(517.5 744.9) scale(1.125 1)" text-anchor="middle" class="lg">L0A3</text>
<text transform="translate(288.8 761.2) scale(1.09 1)" text-anchor="middle" class="tt">The number of months for time−lag and −accumulation effects</text>
</svg></body></html>
